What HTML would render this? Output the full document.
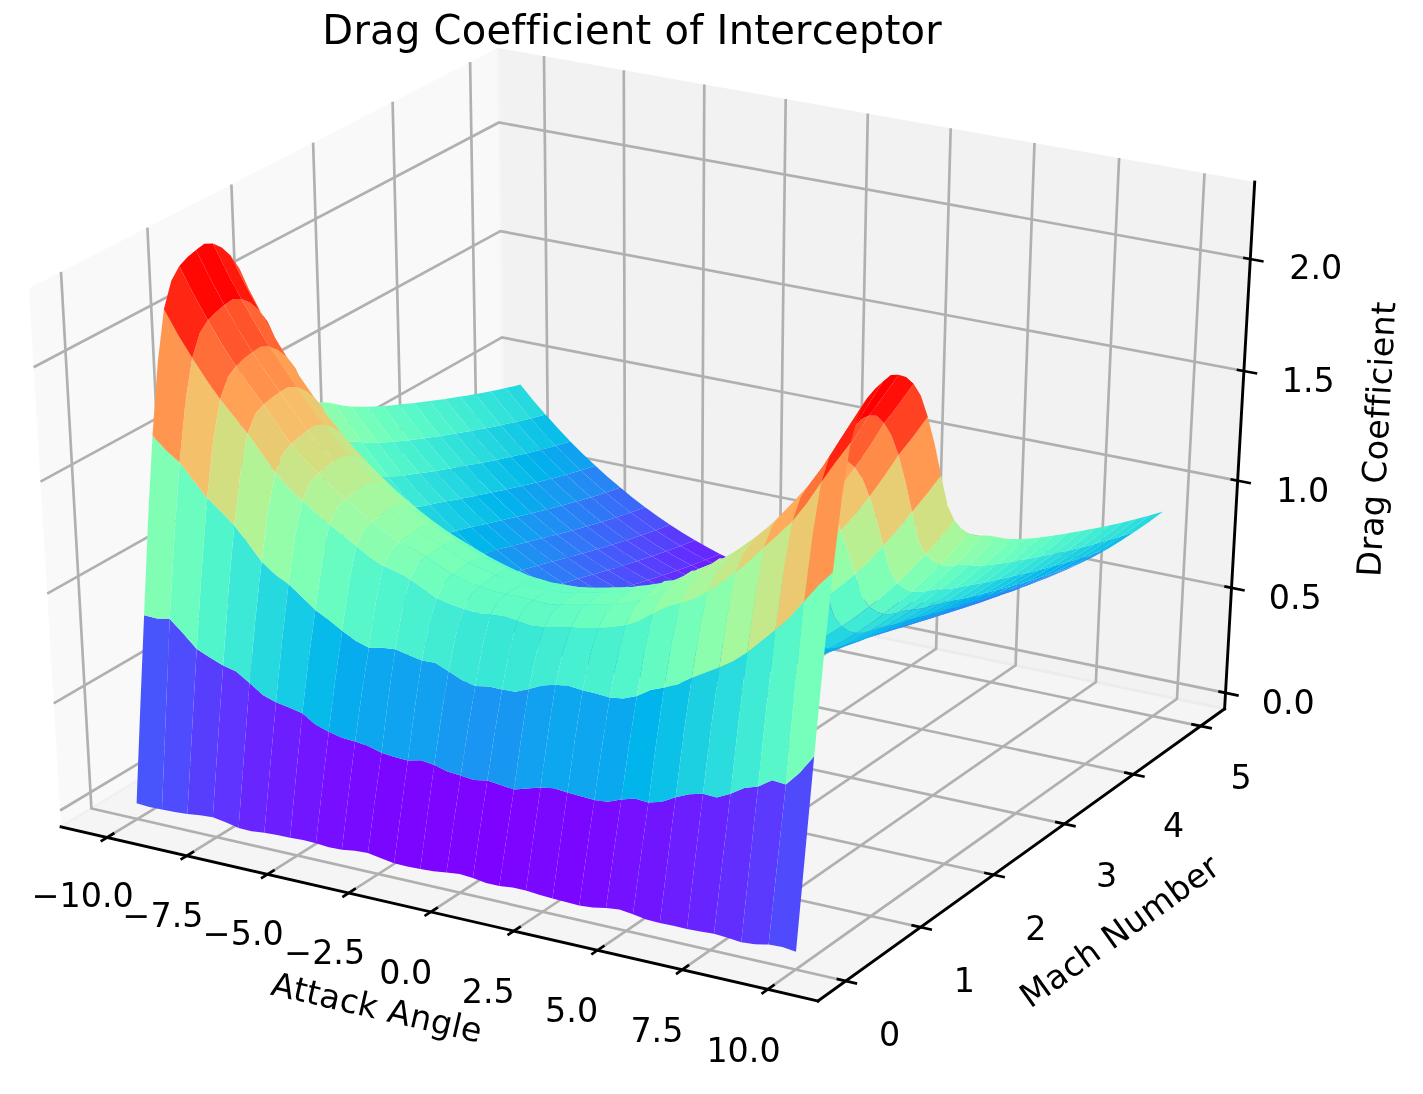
<!DOCTYPE html>
<html lang="en"><head><meta charset="utf-8"><title>Drag Coefficient of Interceptor</title>
<style>html,body{margin:0;padding:0;background:#fff}body{width:1423px;height:1094px;overflow:hidden}</style>
</head><body>
<svg width="1423" height="1094" viewBox="0 0 1423 1094" style="display:block">
<rect width="1423" height="1094" fill="#fff"/>
<polygon points="61.1,826.8 505.2,559.2 497.8,47.9 28.9,288.3" fill="#f9f9f9" />
<polygon points="505.2,559.2 1224.6,708.8 1254.7,182.1 497.8,47.9" fill="#f2f2f2" />
<polygon points="61.1,826.8 818.0,1001.0 1224.6,708.8 505.2,559.2" fill="#f5f5f5" />
<polyline points="505.2,559.2 1224.6,708.8" fill="none" stroke="#ececec" stroke-width="3"/>
<polyline points="61.1,826.8 505.2,559.2" fill="none" stroke="#f1f1f1" stroke-width="3"/>
<polyline points="505.2,559.2 497.8,47.9" fill="none" stroke="#f6f6f6" stroke-width="2.5"/>
<g fill="none" stroke="#b0b0b0" stroke-width="2.67" stroke-linejoin="miter" stroke-linecap="butt">
<polyline points="107.2,837.4 549.2,568.3 544.0,56.1"/>
<polyline points="186.9,855.7 625.1,584.1 623.8,70.2"/>
<polyline points="267.5,874.3 701.8,600.1 704.3,84.5"/>
<polyline points="348.8,893.0 779.2,616.2 785.7,98.9"/>
<polyline points="430.9,911.9 857.3,632.4 867.8,113.5"/>
<polyline points="513.8,931.0 936.1,648.8 950.7,128.2"/>
<polyline points="597.6,950.3 1015.6,665.3 1034.5,143.0"/>
<polyline points="682.2,969.7 1095.9,682.0 1119.1,158.0"/>
<polyline points="767.7,989.4 1177.0,698.9 1204.5,173.2"/>
<polyline points="845.8,981.0 91.4,808.5 61.0,271.9"/>
<polyline points="920.7,927.2 173.0,759.3 147.4,227.6"/>
<polyline points="993.5,874.8 252.4,711.5 231.4,184.5"/>
<polyline points="1064.4,823.9 329.8,664.8 313.1,142.6"/>
<polyline points="1133.4,774.3 405.3,619.4 392.6,101.8"/>
<polyline points="1200.5,726.1 478.8,575.1 470.1,62.1"/>
<polyline points="60.1,810.5 505.0,543.7 1225.5,692.9"/>
<polyline points="53.7,703.3 503.5,441.6 1231.5,587.8"/>
<polyline points="47.2,593.7 502.0,337.4 1237.6,480.6"/>
<polyline points="40.5,481.7 500.4,231.1 1243.9,371.0"/>
<polyline points="33.6,367.2 498.9,122.5 1250.3,259.1"/>
</g>
<g stroke="none">
<polygon points="605.7,492.6 618.2,502.8 630.7,512.5 637.9,509.9 645.1,507.2 632.7,497.7 620.3,487.6 613.0,490.1" fill="#3a69f9"/>
<polygon points="580.8,470.4 593.3,481.8 605.7,492.6 613.0,490.1 620.3,487.6 607.8,477.0 595.4,465.7 588.1,468.1" fill="#2785f6"/>
<polygon points="630.7,512.5 643.2,521.6 655.7,530.2 662.9,527.5 670.0,524.7 657.6,516.2 645.1,507.2 637.9,509.9" fill="#4b51fc"/>
<polygon points="555.8,445.7 568.3,458.4 580.8,470.4 588.1,468.1 595.4,465.7 582.9,453.9 570.4,441.4 563.1,443.6" fill="#10a1f0"/>
<polygon points="655.7,530.2 668.2,538.3 680.7,545.9 687.8,543.1 695.0,540.3 682.5,532.7 670.0,524.7 662.9,527.5" fill="#5a3bfd"/>
<polygon points="530.7,418.4 543.2,432.4 555.8,445.7 563.1,443.6 570.4,441.4 557.9,428.3 545.5,414.4 538.1,416.4" fill="#09bee9"/>
<polygon points="680.7,545.9 693.2,553.1 705.7,559.7 712.8,556.9 719.9,553.9 707.4,547.3 695.0,540.3 687.8,543.1" fill="#6529fe"/>
<polygon points="505.6,388.1 518.1,403.6 530.7,418.4 538.1,416.4 545.5,414.4 532.9,399.9 520.4,384.6 513.0,386.4" fill="#26d9de"/>
<polygon points="705.7,559.7 718.2,565.9 730.7,571.7 737.8,568.8 744.9,565.8 732.4,560.0 719.9,553.9 712.8,556.9" fill="#6f1aff"/>
<polygon points="730.7,571.7 743.3,577.0 755.9,582.0 762.9,579.0 770.0,575.9 757.4,571.0 744.9,565.8 737.8,568.8" fill="#760fff"/>
<polygon points="591.2,497.2 603.7,507.6 616.2,517.4 623.5,515.0 630.7,512.5 618.2,502.8 605.7,492.6 598.5,494.9" fill="#3670f8"/>
<polygon points="566.1,474.7 578.6,486.3 591.2,497.2 598.5,494.9 605.7,492.6 593.3,481.8 580.8,470.4 573.4,472.6" fill="#228bf4"/>
<polygon points="616.2,517.4 628.7,526.6 641.2,535.3 648.5,532.8 655.7,530.2 643.2,521.6 630.7,512.5 623.5,515.0" fill="#4757fb"/>
<polygon points="541.0,449.7 553.6,462.5 566.1,474.7 573.4,472.6 580.8,470.4 568.3,458.4 555.8,445.7 548.4,447.7" fill="#0ba8ef"/>
<polygon points="641.2,535.3 653.7,543.5 666.3,551.2 673.5,548.6 680.7,545.9 668.2,538.3 655.7,530.2 648.5,532.8" fill="#5542fd"/>
<polygon points="755.9,582.0 768.4,586.4 781.0,590.5 788.1,587.5 795.1,584.4 782.5,580.3 770.0,575.9 762.9,579.0" fill="#7b06ff"/>
<polygon points="515.8,421.9 528.4,436.2 541.0,449.7 548.4,447.7 555.8,445.7 543.2,432.4 530.7,418.4 523.3,420.2" fill="#0fc4e7"/>
<polygon points="666.3,551.2 678.8,558.5 691.4,565.2 698.5,562.5 705.7,559.7 693.2,553.1 680.7,545.9 673.5,548.6" fill="#612ffe"/>
<polygon points="691.4,565.2 703.9,571.5 716.5,577.3 723.6,574.6 730.7,571.7 718.2,565.9 705.7,559.7 698.5,562.5" fill="#6b20fe"/>
<polygon points="490.6,391.2 503.2,407.0 515.8,421.9 523.3,420.2 530.7,418.4 518.1,403.6 505.6,388.1 498.1,389.7" fill="#2cdedc"/>
<polygon points="781.0,590.5 793.7,594.2 806.3,597.4 813.3,594.3 820.3,591.2 807.7,588.0 795.1,584.4 788.1,587.5" fill="#7e02ff"/>
<polygon points="716.5,577.3 729.1,582.7 741.7,587.7 748.8,584.9 755.9,582.0 743.3,577.0 730.7,571.7 723.6,574.6" fill="#7215ff"/>
<polygon points="576.5,501.5 589.0,512.0 601.6,522.0 608.9,519.7 616.2,517.4 603.7,507.6 591.2,497.2 583.8,499.4" fill="#3077f7"/>
<polygon points="551.3,478.7 563.9,490.4 576.5,501.5 583.8,499.4 591.2,497.2 578.6,486.3 566.1,474.7 558.7,476.8" fill="#1c92f3"/>
<polygon points="601.6,522.0 614.1,531.3 626.7,540.2 634.0,537.8 641.2,535.3 628.7,526.6 616.2,517.4 608.9,519.7" fill="#425ffa"/>
<polygon points="626.7,540.2 639.2,548.5 651.8,556.3 659.1,553.8 666.3,551.2 653.7,543.5 641.2,535.3 634.0,537.8" fill="#5149fc"/>
<polygon points="526.1,453.4 538.7,466.4 551.3,478.7 558.7,476.8 566.1,474.7 553.6,462.5 541.0,449.7 533.6,451.6" fill="#05aeed"/>
<polygon points="806.3,597.4 819.0,600.2 831.7,602.6 838.7,599.6 845.7,596.4 833.0,594.0 820.3,591.2 813.3,594.3" fill="#8000ff"/>
<polygon points="741.7,587.7 754.3,592.2 766.9,596.3 774.0,593.5 781.0,590.5 768.4,586.4 755.9,582.0 748.8,584.9" fill="#780cff"/>
<polygon points="651.8,556.3 664.4,563.6 677.0,570.4 684.2,567.9 691.4,565.2 678.8,558.5 666.3,551.2 659.1,553.8" fill="#5d36fe"/>
<polygon points="500.9,425.2 513.5,439.6 526.1,453.4 533.6,451.6 541.0,449.7 528.4,436.2 515.8,421.9 508.4,423.6" fill="#15cae5"/>
<polygon points="677.0,570.4 689.5,576.8 702.1,582.7 709.3,580.1 716.5,577.3 703.9,571.5 691.4,565.2 684.2,567.9" fill="#6727fe"/>
<polygon points="475.6,394.1 488.2,410.0 500.9,425.2 508.4,423.6 515.8,421.9 503.2,407.0 490.6,391.2 483.1,392.7" fill="#33e3d9"/>
<polygon points="766.9,596.3 779.6,600.0 792.2,603.3 799.3,600.4 806.3,597.4 793.7,594.2 781.0,590.5 774.0,593.5" fill="#7b08ff"/>
<polygon points="831.7,602.6 844.4,604.6 857.2,606.2 864.1,603.2 871.1,600.0 858.4,598.4 845.7,596.4 838.7,599.6" fill="#7e02ff"/>
<polygon points="702.1,582.7 714.8,588.1 727.4,593.2 734.5,590.5 741.7,587.7 729.1,582.7 716.5,577.3 709.3,580.1" fill="#6e1bff"/>
<polygon points="561.7,505.6 574.3,516.2 586.9,526.3 594.2,524.2 601.6,522.0 589.0,512.0 576.5,501.5 569.1,503.6" fill="#2b7ff6"/>
<polygon points="586.9,526.3 599.5,535.8 612.1,544.7 619.4,542.5 626.7,540.2 614.1,531.3 601.6,522.0 594.2,524.2" fill="#3c66fa"/>
<polygon points="536.5,482.5 549.1,494.3 561.7,505.6 569.1,503.6 576.5,501.5 563.9,490.4 551.3,478.7 543.9,480.6" fill="#169af2"/>
<polygon points="792.2,603.3 804.9,606.1 817.7,608.5 824.7,605.6 831.7,602.6 819.0,600.2 806.3,597.4 799.3,600.4" fill="#7c06ff"/>
<polygon points="612.1,544.7 624.7,553.1 637.3,561.0 644.5,558.7 651.8,556.3 639.2,548.5 626.7,540.2 619.4,542.5" fill="#4b50fc"/>
<polygon points="511.2,456.7 523.8,469.9 536.5,482.5 543.9,480.6 551.3,478.7 538.7,466.4 526.1,453.4 518.7,455.1" fill="#01b5eb"/>
<polygon points="727.4,593.2 740.0,597.7 752.7,601.9 759.8,599.1 766.9,596.3 754.3,592.2 741.7,587.7 734.5,590.5" fill="#7313ff"/>
<polygon points="857.2,606.2 870.0,607.4 882.8,608.1 889.7,605.1 896.7,601.9 883.9,601.2 871.1,600.0 864.1,603.2" fill="#7b06ff"/>
<polygon points="637.3,561.0 649.9,568.4 662.5,575.3 669.7,572.9 677.0,570.4 664.4,563.6 651.8,556.3 644.5,558.7" fill="#583efd"/>
<polygon points="485.9,428.2 498.5,442.8 511.2,456.7 518.7,455.1 526.1,453.4 513.5,439.6 500.9,425.2 493.4,426.7" fill="#1cd0e2"/>
<polygon points="662.5,575.3 675.1,581.8 687.7,587.7 694.9,585.3 702.1,582.7 689.5,576.8 677.0,570.4 669.7,572.9" fill="#622ffe"/>
<polygon points="752.7,601.9 765.4,605.6 778.1,608.9 785.2,606.1 792.2,603.3 779.6,600.0 766.9,596.3 759.8,599.1" fill="#770eff"/>
<polygon points="817.7,608.5 830.4,610.5 843.2,612.1 850.2,609.2 857.2,606.2 844.4,604.6 831.7,602.6 824.7,605.6" fill="#7b08ff"/>
<polygon points="460.4,396.6 473.2,412.8 485.9,428.2 493.4,426.7 500.9,425.2 488.2,410.0 475.6,394.1 468.0,395.4" fill="#3ae8d7"/>
<polygon points="687.7,587.7 700.4,593.2 713.0,598.3 720.2,595.8 727.4,593.2 714.8,588.1 702.1,582.7 694.9,585.3" fill="#6923fe"/>
<polygon points="882.8,608.1 895.6,608.4 908.5,608.3 915.5,605.3 922.3,602.2 909.5,602.3 896.7,601.9 889.7,605.1" fill="#760fff"/>
<polygon points="546.8,509.5 559.5,520.2 572.1,530.4 579.5,528.4 586.9,526.3 574.3,516.2 561.7,505.6 554.3,507.5" fill="#2587f5"/>
<polygon points="572.1,530.4 584.7,540.0 597.4,549.1 604.7,546.9 612.1,544.7 599.5,535.8 586.9,526.3 579.5,528.4" fill="#376ef9"/>
<polygon points="521.5,486.0 534.2,498.1 546.8,509.5 554.3,507.5 561.7,505.6 549.1,494.3 536.5,482.5 529.0,484.3" fill="#10a1f0"/>
<polygon points="778.1,608.9 790.8,611.7 803.6,614.1 810.6,611.4 817.7,608.5 804.9,606.1 792.2,603.3 785.2,606.1" fill="#780cff"/>
<polygon points="597.4,549.1 610.0,557.6 622.6,565.6 629.9,563.3 637.3,561.0 624.7,553.1 612.1,544.7 604.7,546.9" fill="#4659fb"/>
<polygon points="713.0,598.3 725.7,602.9 738.4,607.1 745.5,604.5 752.7,601.9 740.0,597.7 727.4,593.2 720.2,595.8" fill="#6f1aff"/>
<polygon points="496.2,459.9 508.8,473.3 521.5,486.0 529.0,484.3 536.5,482.5 523.8,469.9 511.2,456.7 503.7,458.3" fill="#07bce9"/>
<polygon points="843.2,612.1 856.0,613.3 868.9,614.0 875.8,611.1 882.8,608.1 870.0,607.4 857.2,606.2 850.2,609.2" fill="#780cff"/>
<polygon points="622.6,565.6 635.2,573.1 647.9,580.1 655.2,577.7 662.5,575.3 649.9,568.4 637.3,561.0 629.9,563.3" fill="#5246fd"/>
<polygon points="470.7,431.0 483.4,445.8 496.2,459.9 503.7,458.3 511.2,456.7 498.5,442.8 485.9,428.2 478.3,429.6" fill="#23d6e0"/>
<polygon points="647.9,580.1 660.5,586.6 673.2,592.6 680.5,590.2 687.7,587.7 675.1,581.8 662.5,575.3 655.2,577.7" fill="#5d36fe"/>
<polygon points="908.5,608.3 921.5,607.8 934.4,606.7 941.3,603.8 948.2,600.7 935.3,601.7 922.3,602.2 915.5,605.3" fill="#6f1aff"/>
<polygon points="738.4,607.1 751.1,610.8 763.8,614.1 771.0,611.5 778.1,608.9 765.4,605.6 752.7,601.9 745.5,604.5" fill="#7215ff"/>
<polygon points="803.6,614.1 816.3,616.1 829.1,617.7 836.2,614.9 843.2,612.1 830.4,610.5 817.7,608.5 810.6,611.4" fill="#770eff"/>
<polygon points="445.2,398.9 458.0,415.3 470.7,431.0 478.3,429.6 485.9,428.2 473.2,412.8 460.4,396.6 452.8,397.8" fill="#41ecd3"/>
<polygon points="673.2,592.6 685.9,598.2 698.6,603.3 705.8,600.8 713.0,598.3 700.4,593.2 687.7,587.7 680.5,590.2" fill="#642bfe"/>
<polygon points="868.9,614.0 881.7,614.3 894.7,614.1 901.6,611.3 908.5,608.3 895.6,608.4 882.8,608.1 875.8,611.1" fill="#7215ff"/>
<polygon points="531.9,513.2 544.5,524.1 557.2,534.4 564.7,532.5 572.1,530.4 559.5,520.2 546.8,509.5 539.4,511.3" fill="#1f8ff4"/>
<polygon points="557.2,534.4 569.9,544.2 582.5,553.4 590.0,551.3 597.4,549.1 584.7,540.0 572.1,530.4 564.7,532.5" fill="#3177f8"/>
<polygon points="763.8,614.1 776.6,617.0 789.4,619.4 796.5,616.8 803.6,614.1 790.8,611.7 778.1,608.9 771.0,611.5" fill="#7314ff"/>
<polygon points="506.5,489.4 519.2,501.6 531.9,513.2 539.4,511.3 546.8,509.5 534.2,498.1 521.5,486.0 514.0,487.7" fill="#0aa9ee"/>
<polygon points="582.5,553.4 595.2,562.0 607.9,570.1 615.3,567.9 622.6,565.6 610.0,557.6 597.4,549.1 590.0,551.3" fill="#4061fa"/>
<polygon points="698.6,603.3 711.3,608.0 724.0,612.2 731.2,609.6 738.4,607.1 725.7,602.9 713.0,598.3 705.8,600.8" fill="#6a22fe"/>
<polygon points="829.1,617.7 842.0,618.9 854.9,619.6 861.9,616.8 868.9,614.0 856.0,613.3 843.2,612.1 836.2,614.9" fill="#7313ff"/>
<polygon points="481.0,462.9 493.7,476.5 506.5,489.4 514.0,487.7 521.5,486.0 508.8,473.3 496.2,459.9 488.6,461.4" fill="#0ec3e7"/>
<polygon points="607.9,570.1 620.6,577.7 633.2,584.7 640.6,582.5 647.9,580.1 635.2,573.1 622.6,565.6 615.3,567.9" fill="#4d4efc"/>
<polygon points="934.4,606.7 947.4,605.2 960.5,603.3 967.4,600.4 974.2,597.4 961.2,599.3 948.2,600.7 941.3,603.8" fill="#6529fe"/>
<polygon points="455.5,433.5 468.3,448.6 481.0,462.9 488.6,461.4 496.2,459.9 483.4,445.8 470.7,431.0 463.1,432.3" fill="#2adcdd"/>
<polygon points="633.2,584.7 645.9,591.3 658.6,597.4 665.9,595.1 673.2,592.6 660.5,586.6 647.9,580.1 640.6,582.5" fill="#573ffd"/>
<polygon points="894.7,614.1 907.6,613.5 920.6,612.4 927.5,609.6 934.4,606.7 921.5,607.8 908.5,608.3 901.6,611.3" fill="#6b20fe"/>
<polygon points="724.0,612.2 736.7,616.0 749.5,619.3 756.7,616.7 763.8,614.1 751.1,610.8 738.4,607.1 731.2,609.6" fill="#6d1dff"/>
<polygon points="789.4,619.4 802.2,621.4 815.0,623.0 822.1,620.4 829.1,617.7 816.3,616.1 803.6,614.1 796.5,616.8" fill="#7215ff"/>
<polygon points="429.8,401.0 442.7,417.7 455.5,433.5 463.1,432.3 470.7,431.0 458.0,415.3 445.2,398.9 437.5,400.0" fill="#49f1d0"/>
<polygon points="658.6,597.4 671.3,603.1 684.0,608.2 691.3,605.8 698.6,603.3 685.9,598.2 673.2,592.6 665.9,595.1" fill="#5f33fe"/>
<polygon points="854.9,619.6 867.8,619.8 880.7,619.6 887.7,616.9 894.7,614.1 881.7,614.3 868.9,614.0 861.9,616.8" fill="#6e1bff"/>
<polygon points="749.5,619.3 762.3,622.2 775.1,624.6 782.2,622.0 789.4,619.4 776.6,617.0 763.8,614.1 756.7,616.7" fill="#6e1bff"/>
<polygon points="516.8,516.7 529.5,527.8 542.2,538.2 549.7,536.3 557.2,534.4 544.5,524.1 531.9,513.2 524.3,514.9" fill="#1997f2"/>
<polygon points="542.2,538.2 554.9,548.1 567.6,557.4 575.1,555.4 582.5,553.4 569.9,544.2 557.2,534.4 549.7,536.3" fill="#2b7ff6"/>
<polygon points="491.3,492.6 504.1,504.9 516.8,516.7 524.3,514.9 531.9,513.2 519.2,501.6 506.5,489.4 498.9,491.0" fill="#03b1ed"/>
<polygon points="960.5,603.3 973.6,600.8 986.8,597.9 993.6,595.0 1000.4,592.1 987.3,595.0 974.2,597.4 967.4,600.4" fill="#5a3bfd"/>
<polygon points="567.6,557.4 580.4,566.2 593.1,574.4 600.5,572.2 607.9,570.1 595.2,562.0 582.5,553.4 575.1,555.4" fill="#3a69f9"/>
<polygon points="815.0,623.0 827.9,624.1 840.8,624.8 847.8,622.2 854.9,619.6 842.0,618.9 829.1,617.7 822.1,620.4" fill="#6f1aff"/>
<polygon points="684.0,608.2 696.8,612.9 709.5,617.2 716.8,614.7 724.0,612.2 711.3,608.0 698.6,603.3 691.3,605.8" fill="#652afe"/>
<polygon points="465.8,465.7 478.5,479.5 491.3,492.6 498.9,491.0 506.5,489.4 493.7,476.5 481.0,462.9 473.4,464.3" fill="#15cae5"/>
<polygon points="920.6,612.4 933.6,610.9 946.7,608.9 953.6,606.1 960.5,603.3 947.4,605.2 934.4,606.7 927.5,609.6" fill="#612ffe"/>
<polygon points="593.1,574.4 605.8,582.0 618.5,589.2 625.9,587.0 633.2,584.7 620.6,577.7 607.9,570.1 600.5,572.2" fill="#4756fb"/>
<polygon points="440.1,435.9 453.0,451.2 465.8,465.7 473.4,464.3 481.0,462.9 468.3,448.6 455.5,433.5 447.8,434.7" fill="#31e2da"/>
<polygon points="880.7,619.6 893.7,619.0 906.7,617.9 913.7,615.2 920.6,612.4 907.6,613.5 894.7,614.1 887.7,616.9" fill="#6727fe"/>
<polygon points="618.5,589.2 631.2,595.8 643.9,602.0 651.3,599.7 658.6,597.4 645.9,591.3 633.2,584.7 625.9,587.0" fill="#5247fc"/>
<polygon points="775.1,624.6 787.9,626.6 800.8,628.2 807.9,625.6 815.0,623.0 802.2,621.4 789.4,619.4 782.2,622.0" fill="#6d1dff"/>
<polygon points="709.5,617.2 722.3,621.0 735.1,624.3 742.3,621.8 749.5,619.3 736.7,616.0 724.0,612.2 716.8,614.7" fill="#6825fe"/>
<polygon points="840.8,624.8 853.7,625.1 866.7,624.8 873.7,622.3 880.7,619.6 867.8,619.8 854.9,619.6 847.8,622.2" fill="#6923fe"/>
<polygon points="643.9,602.0 656.7,607.7 669.4,612.9 676.7,610.6 684.0,608.2 671.3,603.1 658.6,597.4 651.3,599.7" fill="#5a3bfd"/>
<polygon points="414.4,402.9 427.3,419.8 440.1,435.9 447.8,434.7 455.5,433.5 442.7,417.7 429.8,401.0 422.1,401.9" fill="#50f4cc"/>
<polygon points="986.8,597.9 1000.0,594.4 1013.2,590.3 1020.0,587.6 1026.9,584.8 1013.6,588.7 1000.4,592.1 993.6,595.0" fill="#4b51fc"/>
<polygon points="735.1,624.3 747.9,627.2 760.7,629.7 767.9,627.2 775.1,624.6 762.3,622.2 749.5,619.3 742.3,621.8" fill="#6923fe"/>
<polygon points="501.6,520.2 514.4,531.4 527.2,542.1 534.7,540.1 542.2,538.2 529.5,527.8 516.8,516.7 509.2,518.4" fill="#129ff1"/>
<polygon points="527.2,542.1 539.9,552.1 552.7,561.5 560.2,559.5 567.6,557.4 554.9,548.1 542.2,538.2 534.7,540.1" fill="#2587f5"/>
<polygon points="946.7,608.9 959.8,606.3 973.0,603.3 979.9,600.6 986.8,597.9 973.6,600.8 960.5,603.3 953.6,606.1" fill="#5542fd"/>
<polygon points="800.8,628.2 813.7,629.3 826.6,630.0 833.7,627.4 840.8,624.8 827.9,624.1 815.0,623.0 807.9,625.6" fill="#6a22fe"/>
<polygon points="476.1,495.7 488.9,508.3 501.6,520.2 509.2,518.4 516.8,516.7 504.1,504.9 491.3,492.6 483.7,494.1" fill="#03b8eb"/>
<polygon points="669.4,612.9 682.2,617.7 695.0,622.0 702.3,619.6 709.5,617.2 696.8,612.9 684.0,608.2 676.7,610.6" fill="#5f32fe"/>
<polygon points="552.7,561.5 565.4,570.4 578.1,578.7 585.6,576.5 593.1,574.4 580.4,566.2 567.6,557.4 560.2,559.5" fill="#3472f8"/>
<polygon points="906.7,617.9 919.8,616.3 932.9,614.2 939.8,611.6 946.7,608.9 933.6,610.9 920.6,612.4 913.7,615.2" fill="#5d36fe"/>
<polygon points="450.4,468.5 463.3,482.5 476.1,495.7 483.7,494.1 491.3,492.6 478.5,479.5 465.8,465.7 458.1,467.1" fill="#1cd1e2"/>
<polygon points="578.1,578.7 590.9,586.5 603.6,593.7 611.1,591.4 618.5,589.2 605.8,582.0 593.1,574.4 585.6,576.5" fill="#425ffa"/>
<polygon points="866.7,624.8 879.7,624.2 892.7,623.0 899.7,620.5 906.7,617.9 893.7,619.0 880.7,619.6 873.7,622.3" fill="#622ffe"/>
<polygon points="603.6,593.7 616.4,600.5 629.1,606.7 636.5,604.3 643.9,602.0 631.2,595.8 618.5,589.2 611.1,591.4" fill="#4c4ffc"/>
<polygon points="760.7,629.7 773.6,631.7 786.5,633.2 793.6,630.8 800.8,628.2 787.9,626.6 775.1,624.6 767.9,627.2" fill="#6825fe"/>
<polygon points="424.7,438.2 437.6,453.7 450.4,468.5 458.1,467.1 465.8,465.7 453.0,451.2 440.1,435.9 432.4,437.1" fill="#39e7d7"/>
<polygon points="695.0,622.0 707.8,625.8 720.6,629.2 727.8,626.7 735.1,624.3 722.3,621.0 709.5,617.2 702.3,619.6" fill="#632dfe"/>
<polygon points="826.6,630.0 839.6,630.2 852.5,629.9 859.6,627.4 866.7,624.8 853.7,625.1 840.8,624.8 833.7,627.4" fill="#642bfe"/>
<polygon points="629.1,606.7 641.9,612.5 654.7,617.7 662.1,615.3 669.4,612.9 656.7,607.7 643.9,602.0 636.5,604.3" fill="#5443fd"/>
<polygon points="398.8,404.6 411.8,421.8 424.7,438.2 432.4,437.1 440.1,435.9 427.3,419.8 414.4,402.9 406.6,403.8" fill="#58f8c9"/>
<polygon points="1013.2,590.3 1026.5,585.7 1039.9,580.6 1046.7,577.9 1053.5,575.2 1040.1,580.3 1026.9,584.8 1020.0,587.6" fill="#3a69f9"/>
<polygon points="973.0,603.3 986.3,599.7 999.5,595.6 1006.4,593.0 1013.2,590.3 1000.0,594.4 986.8,597.9 979.9,600.6" fill="#4757fb"/>
<polygon points="720.6,629.2 733.4,632.1 746.3,634.5 753.5,632.1 760.7,629.7 747.9,627.2 735.1,624.3 727.8,626.7" fill="#642bfe"/>
<polygon points="932.9,614.2 946.0,611.6 959.2,608.4 966.1,605.9 973.0,603.3 959.8,606.3 946.7,608.9 939.8,611.6" fill="#5149fc"/>
<polygon points="512.0,545.9 524.8,556.1 537.6,565.7 545.1,563.6 552.7,561.5 539.9,552.1 527.2,542.1 519.6,544.0" fill="#1f8ff4"/>
<polygon points="486.4,523.7 499.2,535.1 512.0,545.9 519.6,544.0 527.2,542.1 514.4,531.4 501.6,520.2 494.0,522.0" fill="#0ca7ef"/>
<polygon points="786.5,633.2 799.4,634.3 812.3,635.0 819.5,632.5 826.6,630.0 813.7,629.3 800.8,628.2 793.6,630.8" fill="#652afe"/>
<polygon points="654.7,617.7 667.5,622.5 680.3,626.9 687.6,624.4 695.0,622.0 682.2,617.7 669.4,612.9 662.1,615.3" fill="#5a3bfd"/>
<polygon points="537.6,565.7 550.4,574.7 563.1,583.2 570.6,580.9 578.1,578.7 565.4,570.4 552.7,561.5 545.1,563.6" fill="#2f7af7"/>
<polygon points="460.7,498.8 473.6,511.6 486.4,523.7 494.0,522.0 501.6,520.2 488.9,508.3 476.1,495.7 468.4,497.3" fill="#0abfe8"/>
<polygon points="892.7,623.0 905.8,621.3 918.9,619.2 925.9,616.7 932.9,614.2 919.8,616.3 906.7,617.9 899.7,620.5" fill="#583efd"/>
<polygon points="563.1,583.2 575.9,591.0 588.7,598.4 596.2,596.1 603.6,593.7 590.9,586.5 578.1,578.7 570.6,580.9" fill="#3c67f9"/>
<polygon points="435.0,471.0 447.9,485.3 460.7,498.8 468.4,497.3 476.1,495.7 463.3,482.5 450.4,468.5 442.7,469.8" fill="#24d7e0"/>
<polygon points="852.5,629.9 865.6,629.2 878.6,628.0 885.7,625.5 892.7,623.0 879.7,624.2 866.7,624.8 859.6,627.4" fill="#5d36fe"/>
<polygon points="588.7,598.4 601.5,605.2 614.3,611.6 621.7,609.1 629.1,606.7 616.4,600.5 603.6,593.7 596.2,596.1" fill="#4758fb"/>
<polygon points="746.3,634.5 759.2,636.5 772.1,638.1 779.3,635.7 786.5,633.2 773.6,631.7 760.7,629.7 753.5,632.1" fill="#632dfe"/>
<polygon points="680.3,626.9 693.1,630.7 706.0,634.1 713.3,631.6 720.6,629.2 707.8,625.8 695.0,622.0 687.6,624.4" fill="#5d35fe"/>
<polygon points="409.1,440.2 422.1,456.0 435.0,471.0 442.7,469.8 450.4,468.5 437.6,453.7 424.7,438.2 416.9,439.2" fill="#40ecd4"/>
<polygon points="812.3,635.0 825.3,635.2 838.3,634.9 845.5,632.4 852.5,629.9 839.6,630.2 826.6,630.0 819.5,632.5" fill="#5f33fe"/>
<polygon points="614.3,611.6 627.1,617.4 639.9,622.7 647.3,620.2 654.7,617.7 641.9,612.5 629.1,606.7 621.7,609.1" fill="#4f4bfc"/>
<polygon points="999.5,595.6 1012.9,590.9 1026.3,585.6 1033.1,583.1 1039.9,580.6 1026.5,585.7 1013.2,590.3 1006.4,593.0" fill="#3670f8"/>
<polygon points="1039.9,580.6 1053.4,574.8 1066.9,568.4 1073.7,565.9 1080.4,563.3 1066.9,569.6 1053.5,575.2 1046.7,577.9" fill="#2785f6"/>
<polygon points="959.2,608.4 972.5,604.8 985.8,600.5 992.7,598.1 999.5,595.6 986.3,599.7 973.0,603.3 966.1,605.9" fill="#425ffa"/>
<polygon points="383.1,406.0 396.1,423.5 409.1,440.2 416.9,439.2 424.7,438.2 411.8,421.8 398.8,404.6 391.0,405.4" fill="#61fac5"/>
<polygon points="706.0,634.1 718.9,637.1 731.7,639.5 739.0,637.0 746.3,634.5 733.4,632.1 720.6,629.2 713.3,631.6" fill="#5e34fe"/>
<polygon points="918.9,619.2 932.1,616.5 945.3,613.3 952.3,610.9 959.2,608.4 946.0,611.6 932.9,614.2 925.9,616.7" fill="#4b50fc"/>
<polygon points="496.7,549.7 509.6,560.1 522.4,569.9 530.0,567.8 537.6,565.7 524.8,556.1 512.0,545.9 504.4,547.8" fill="#1897f2"/>
<polygon points="471.0,527.0 483.9,538.7 496.7,549.7 504.4,547.8 512.0,545.9 499.2,535.1 486.4,523.7 478.7,525.4" fill="#05afed"/>
<polygon points="772.1,638.1 785.0,639.2 798.0,639.8 805.2,637.4 812.3,635.0 799.4,634.3 786.5,633.2 779.3,635.7" fill="#5f32fe"/>
<polygon points="639.9,622.7 652.7,627.6 665.6,632.0 672.9,629.4 680.3,626.9 667.5,622.5 654.7,617.7 647.3,620.2" fill="#5543fd"/>
<polygon points="522.4,569.9 535.2,579.1 548.0,587.7 555.6,585.4 563.1,583.2 550.4,574.7 537.6,565.7 530.0,567.8" fill="#2982f6"/>
<polygon points="445.3,501.6 458.2,514.7 471.0,527.0 478.7,525.4 486.4,523.7 473.6,511.6 460.7,498.8 453.0,500.2" fill="#11c7e6"/>
<polygon points="878.6,628.0 891.8,626.2 904.9,624.0 911.9,621.6 918.9,619.2 905.8,621.3 892.7,623.0 885.7,625.5" fill="#5246fd"/>
<polygon points="548.0,587.7 560.8,595.7 573.7,603.2 581.2,600.8 588.7,598.4 575.9,591.0 563.1,583.2 555.6,585.4" fill="#366ff9"/>
<polygon points="419.4,473.2 432.4,487.8 445.3,501.6 453.0,500.2 460.7,498.8 447.9,485.3 435.0,471.0 427.2,472.2" fill="#2bdddd"/>
<polygon points="838.3,634.9 851.4,634.1 864.5,632.8 871.6,630.4 878.6,628.0 865.6,629.2 852.5,629.9 845.5,632.4" fill="#573ffd"/>
<polygon points="573.7,603.2 586.5,610.1 599.3,616.6 606.8,614.1 614.3,611.6 601.5,605.2 588.7,598.4 581.2,600.8" fill="#4160fa"/>
<polygon points="731.7,639.5 744.7,641.5 757.6,643.1 764.9,640.6 772.1,638.1 759.2,636.5 746.3,634.5 739.0,637.0" fill="#5d35fe"/>
<polygon points="665.6,632.0 678.4,635.9 691.3,639.3 698.7,636.7 706.0,634.1 693.1,630.7 680.3,626.9 672.9,629.4" fill="#583dfd"/>
<polygon points="393.4,441.7 406.4,457.9 419.4,473.2 427.2,472.2 435.0,471.0 422.1,456.0 409.1,440.2 401.3,441.0" fill="#48f0d0"/>
<polygon points="798.0,639.8 811.0,640.0 824.1,639.6 831.2,637.3 838.3,634.9 825.3,635.2 812.3,635.0 805.2,637.4" fill="#5a3bfd"/>
<polygon points="599.3,616.6 612.2,622.5 625.0,627.9 632.5,625.3 639.9,622.7 627.1,617.4 614.3,611.6 606.8,614.1" fill="#4953fb"/>
<polygon points="985.8,600.5 999.1,595.7 1012.6,590.3 1019.4,588.0 1026.3,585.6 1012.9,590.9 999.5,595.6 992.7,598.1" fill="#3077f7"/>
<polygon points="1026.3,585.6 1039.8,579.7 1053.3,573.2 1060.1,570.8 1066.9,568.4 1053.4,574.8 1039.9,580.6 1033.1,583.1" fill="#228bf4"/>
<polygon points="945.3,613.3 958.6,609.5 971.9,605.2 978.9,602.9 985.8,600.5 972.5,604.8 959.2,608.4 952.3,610.9" fill="#3c66fa"/>
<polygon points="691.3,639.3 704.2,642.2 717.1,644.7 724.4,642.1 731.7,639.5 718.9,637.1 706.0,634.1 698.7,636.7" fill="#593cfd"/>
<polygon points="1066.9,568.4 1080.5,561.4 1094.1,553.6 1100.9,551.3 1107.6,548.9 1094.0,556.4 1080.4,563.3 1073.7,565.9" fill="#10a1f0"/>
<polygon points="367.3,406.7 380.4,424.7 393.4,441.7 401.3,441.0 409.1,440.2 396.1,423.5 383.1,406.0 375.2,406.5" fill="#69fdc0"/>
<polygon points="904.9,624.0 918.1,621.3 931.4,618.0 938.4,615.6 945.3,613.3 932.1,616.5 918.9,619.2 911.9,621.6" fill="#4659fb"/>
<polygon points="481.4,554.4 494.3,565.1 507.1,575.2 514.8,572.3 522.4,569.9 509.6,560.1 496.7,549.7 489.1,551.9" fill="#139ef1"/>
<polygon points="757.6,643.1 770.6,644.2 783.6,644.8 790.8,642.3 798.0,639.8 785.0,639.2 772.1,638.1 764.9,640.6" fill="#5a3bfd"/>
<polygon points="625.0,627.9 637.9,632.8 650.7,637.3 658.2,634.6 665.6,632.0 652.7,627.6 639.9,622.7 632.5,625.3" fill="#4f4afc"/>
<polygon points="455.6,531.0 468.5,543.1 481.4,554.4 489.1,551.9 496.7,549.7 483.9,538.7 471.0,527.0 463.3,528.9" fill="#01b6eb"/>
<polygon points="507.1,575.2 520.0,584.7 532.8,593.5 540.4,590.3 548.0,587.7 535.2,579.1 522.4,569.9 514.8,572.3" fill="#2389f5"/>
<polygon points="864.5,632.8 877.6,631.0 890.8,628.7 897.9,626.4 904.9,624.0 891.8,626.2 878.6,628.0 871.6,630.4" fill="#4d4efc"/>
<polygon points="429.7,504.7 442.7,518.2 455.6,531.0 463.3,528.9 471.0,527.0 458.2,514.7 445.3,501.6 437.5,503.1" fill="#18cde4"/>
<polygon points="532.8,593.5 545.7,601.8 558.6,609.5 566.1,606.0 573.7,603.2 560.8,595.7 548.0,587.7 540.4,590.3" fill="#3176f8"/>
<polygon points="403.7,475.4 416.7,490.5 429.7,504.7 437.5,503.1 445.3,501.6 432.4,487.8 419.4,473.2 411.6,474.3" fill="#33e3da"/>
<polygon points="824.1,639.6 837.1,638.8 850.3,637.5 857.4,635.1 864.5,632.8 851.4,634.1 838.3,634.9 831.2,637.3" fill="#5247fc"/>
<polygon points="558.6,609.5 571.4,616.6 584.3,623.2 591.8,619.6 599.3,616.6 586.5,610.1 573.7,603.2 566.1,606.0" fill="#3d66fa"/>
<polygon points="717.1,644.7 730.1,646.7 743.0,648.3 750.3,645.6 757.6,643.1 744.7,641.5 731.7,639.5 724.4,642.1" fill="#583dfd"/>
<polygon points="650.7,637.3 663.6,641.2 676.5,644.7 683.9,641.9 691.3,639.3 678.4,635.9 665.6,632.0 658.2,634.6" fill="#5345fd"/>
<polygon points="377.6,442.8 390.7,459.5 403.7,475.4 411.6,474.3 419.4,473.2 406.4,457.9 393.4,441.7 385.6,442.3" fill="#51f5cc"/>
<polygon points="584.3,623.2 597.1,629.3 610.0,634.8 617.5,631.0 625.0,627.9 612.2,622.5 599.3,616.6 591.8,619.6" fill="#455afb"/>
<polygon points="783.6,644.8 796.6,644.9 809.7,644.5 816.9,642.0 824.1,639.6 811.0,640.0 798.0,639.8 790.8,642.3" fill="#5443fd"/>
<polygon points="971.9,605.2 985.3,600.3 998.8,594.8 1005.7,592.6 1012.6,590.3 999.1,595.7 985.8,600.5 978.9,602.9" fill="#2b7ff6"/>
<polygon points="1012.6,590.3 1026.1,584.3 1039.6,577.6 1046.5,575.4 1053.3,573.2 1039.8,579.7 1026.3,585.6 1019.4,588.0" fill="#1c92f3"/>
<polygon points="931.4,618.0 944.7,614.1 958.0,609.7 965.0,607.4 971.9,605.2 958.6,609.5 945.3,613.3 938.4,615.6" fill="#376ef9"/>
<polygon points="676.5,644.7 689.5,647.6 702.4,650.1 709.8,647.4 717.1,644.7 704.2,642.2 691.3,639.3 683.9,641.9" fill="#5443fd"/>
<polygon points="1053.3,573.2 1066.9,566.0 1080.6,558.1 1087.4,555.9 1094.1,553.6 1080.5,561.4 1066.9,568.4 1060.1,570.8" fill="#0ba8ef"/>
<polygon points="890.8,628.7 904.0,625.9 917.3,622.5 924.3,620.3 931.4,618.0 918.1,621.3 904.9,624.0 897.9,626.4" fill="#4061fa"/>
<polygon points="610.0,634.8 622.9,639.8 635.8,644.4 643.3,640.4 650.7,637.3 637.9,632.8 625.0,627.9 617.5,631.0" fill="#4b51fc"/>
<polygon points="465.9,558.7 478.9,569.8 491.8,580.3 499.5,578.1 507.1,575.2 494.3,565.1 481.4,554.4 473.7,556.9" fill="#0ea5ef"/>
<polygon points="743.0,648.3 756.0,649.3 769.1,649.9 776.3,647.3 783.6,644.8 770.6,644.2 757.6,643.1 750.3,645.6" fill="#5543fd"/>
<polygon points="491.8,580.3 504.7,590.1 517.6,599.3 525.2,596.8 532.8,593.5 520.0,584.7 507.1,575.2 499.5,578.1" fill="#1f8ff4"/>
<polygon points="440.0,534.3 453.0,546.8 465.9,558.7 473.7,556.9 481.4,554.4 468.5,543.1 455.6,531.0 447.8,533.0" fill="#07bce9"/>
<polygon points="351.4,406.6 364.5,425.1 377.6,442.8 385.6,442.3 393.4,441.7 380.4,424.7 367.3,406.7 359.4,406.8" fill="#73febb"/>
<polygon points="1094.1,553.6 1107.9,545.2 1121.7,536.1 1128.4,533.9 1135.1,531.6 1121.3,540.6 1107.6,548.9 1100.9,551.3" fill="#09bee9"/>
<polygon points="850.3,637.5 863.4,635.6 876.6,633.3 883.7,631.0 890.8,628.7 877.6,631.0 864.5,632.8 857.4,635.1" fill="#4756fb"/>
<polygon points="517.6,599.3 530.5,607.9 543.4,615.9 551.0,613.0 558.6,609.5 545.7,601.8 532.8,593.5 525.2,596.8" fill="#2e7bf7"/>
<polygon points="414.0,506.8 427.1,520.9 440.0,534.3 447.8,533.0 455.6,531.0 442.7,518.2 429.7,504.7 421.9,506.2" fill="#1fd3e1"/>
<polygon points="543.4,615.9 556.2,623.3 569.1,630.1 576.7,627.0 584.3,623.2 571.4,616.6 558.6,609.5 551.0,613.0" fill="#396bf9"/>
<polygon points="809.7,644.5 822.8,643.6 835.9,642.2 843.1,639.8 850.3,637.5 837.1,638.8 824.1,639.6 816.9,642.0" fill="#4c4ffc"/>
<polygon points="635.8,644.4 648.7,648.4 661.7,651.9 669.1,647.9 676.5,644.7 663.6,641.2 650.7,637.3 643.3,640.4" fill="#4f4bfc"/>
<polygon points="702.4,650.1 715.4,652.1 728.4,653.6 735.7,650.9 743.0,648.3 730.1,646.7 717.1,644.7 709.8,647.4" fill="#5345fd"/>
<polygon points="387.9,476.2 401.0,491.9 414.0,506.8 421.9,506.2 429.7,504.7 416.7,490.5 403.7,475.4 395.9,476.2" fill="#3be9d6"/>
<polygon points="569.1,630.1 582.0,636.3 595.0,642.0 602.5,638.8 610.0,634.8 597.1,629.3 584.3,623.2 576.7,627.0" fill="#425efb"/>
<polygon points="769.1,649.9 782.1,650.0 795.2,649.5 802.5,647.0 809.7,644.5 796.6,644.9 783.6,644.8 776.3,647.3" fill="#4f4bfc"/>
<polygon points="361.7,442.1 374.8,459.6 387.9,476.2 395.9,476.2 403.7,475.4 390.7,459.5 377.6,442.8 369.7,442.9" fill="#5af8c8"/>
<polygon points="958.0,609.7 971.4,604.7 984.9,599.0 991.9,596.9 998.8,594.8 985.3,600.3 971.9,605.2 965.0,607.4" fill="#2587f5"/>
<polygon points="998.8,594.8 1012.3,588.6 1025.9,581.8 1032.8,579.7 1039.6,577.6 1026.1,584.3 1012.6,590.3 1005.7,592.6" fill="#169af2"/>
<polygon points="917.3,622.5 930.6,618.6 944.0,614.0 951.0,611.9 958.0,609.7 944.7,614.1 931.4,618.0 924.3,620.3" fill="#3177f8"/>
<polygon points="661.7,651.9 674.6,654.8 687.6,657.3 695.0,653.4 702.4,650.1 689.5,647.6 676.5,644.7 669.1,647.9" fill="#5049fc"/>
<polygon points="595.0,642.0 607.9,647.2 620.8,651.8 628.3,648.4 635.8,644.4 622.9,639.8 610.0,634.8 602.5,638.8" fill="#4954fb"/>
<polygon points="1039.6,577.6 1053.3,570.3 1067.0,562.2 1073.8,560.2 1080.6,558.1 1066.9,566.0 1053.3,573.2 1046.5,575.4" fill="#05aeed"/>
<polygon points="876.6,633.3 889.9,630.4 903.2,626.9 910.3,624.7 917.3,622.5 904.0,625.9 890.8,628.7 883.7,631.0" fill="#3a69f9"/>
<polygon points="450.4,563.3 463.4,574.9 476.3,585.8 484.1,582.6 491.8,580.3 478.9,569.8 465.9,558.7 458.2,560.6" fill="#08abee"/>
<polygon points="728.4,653.6 741.4,654.6 754.5,655.2 761.8,652.5 769.1,649.9 756.0,649.3 743.0,648.3 735.7,650.9" fill="#4f4afc"/>
<polygon points="476.3,585.8 489.3,596.0 502.2,605.5 509.9,602.0 517.6,599.3 504.7,590.1 491.8,580.3 484.1,582.6" fill="#1b95f3"/>
<polygon points="424.4,537.9 437.4,551.0 450.4,563.3 458.2,560.6 465.9,558.7 453.0,546.8 440.0,534.3 432.2,535.6" fill="#0ec3e7"/>
<polygon points="1080.6,558.1 1094.3,549.5 1108.2,540.1 1115.0,538.1 1121.7,536.1 1107.9,545.2 1094.1,553.6 1087.4,555.9" fill="#0fc4e7"/>
<polygon points="502.2,605.5 515.1,614.4 528.1,622.6 535.7,618.9 543.4,615.9 530.5,607.9 517.6,599.3 509.9,602.0" fill="#2a80f6"/>
<polygon points="835.9,642.2 849.1,640.3 862.4,637.9 869.5,635.6 876.6,633.3 863.4,635.6 850.3,637.5 843.1,639.8" fill="#425ffa"/>
<polygon points="335.3,404.1 348.5,423.6 361.7,442.1 369.7,442.9 377.6,442.8 364.5,425.1 351.4,406.6 343.4,405.8" fill="#7effb5"/>
<polygon points="398.3,509.4 411.3,524.1 424.4,537.9 432.2,535.6 440.0,534.3 427.1,520.9 414.0,506.8 406.2,507.6" fill="#27dade"/>
<polygon points="528.1,622.6 541.0,630.3 553.9,637.3 561.5,633.3 569.1,630.1 556.2,623.3 543.4,615.9 535.7,618.9" fill="#366ff9"/>
<polygon points="620.8,651.8 633.7,655.9 646.7,659.4 654.2,656.0 661.7,651.9 648.7,648.4 635.8,644.4 628.3,648.4" fill="#4d4ffc"/>
<polygon points="1121.7,536.1 1135.6,526.1 1149.6,515.4 1156.3,513.4 1163.0,511.4 1149.0,521.9 1135.1,531.6 1128.4,533.9" fill="#26d9de"/>
<polygon points="795.2,649.5 808.3,648.6 821.5,647.1 828.7,644.7 835.9,642.2 822.8,643.6 809.7,644.5 802.5,647.0" fill="#4758fb"/>
<polygon points="687.6,657.3 700.6,659.3 713.6,660.8 721.0,656.8 728.4,653.6 715.4,652.1 702.4,650.1 695.0,653.4" fill="#4f4bfc"/>
<polygon points="372.0,477.5 385.2,493.9 398.3,509.4 406.2,507.6 414.0,506.8 401.0,491.9 387.9,476.2 380.0,476.3" fill="#44eed2"/>
<polygon points="553.9,637.3 566.9,643.7 579.8,649.6 587.4,645.5 595.0,642.0 582.0,636.3 569.1,630.1 561.5,633.3" fill="#4062fa"/>
<polygon points="754.5,655.2 767.5,655.2 780.7,654.7 787.9,652.1 795.2,649.5 782.1,650.0 769.1,649.9 761.8,652.5" fill="#4953fb"/>
<polygon points="646.7,659.4 659.7,662.5 672.7,665.0 680.1,661.5 687.6,657.3 674.6,654.8 661.7,651.9 654.2,656.0" fill="#4e4dfc"/>
<polygon points="944.0,614.0 957.5,608.9 971.0,603.1 977.9,601.1 984.9,599.0 971.4,604.7 958.0,609.7 951.0,611.9" fill="#1f8ff4"/>
<polygon points="579.8,649.6 592.7,654.9 605.7,659.6 613.3,655.4 620.8,651.8 607.9,647.2 595.0,642.0 587.4,645.5" fill="#4658fb"/>
<polygon points="984.9,599.0 998.5,592.7 1012.1,585.8 1019.0,583.8 1025.9,581.8 1012.3,588.6 998.8,594.8 991.9,596.9" fill="#10a1f0"/>
<polygon points="903.2,626.9 916.5,622.8 929.9,618.2 937.0,616.1 944.0,614.0 930.6,618.6 917.3,622.5 910.3,624.7" fill="#2b7ff6"/>
<polygon points="345.6,441.8 358.9,460.1 372.0,477.5 380.0,476.3 387.9,476.2 374.8,459.6 361.7,442.1 353.7,441.4" fill="#65fcc2"/>
<polygon points="1025.9,581.8 1039.5,574.3 1053.3,566.1 1060.1,564.2 1067.0,562.2 1053.3,570.3 1039.6,577.6 1032.8,579.7" fill="#01b5eb"/>
<polygon points="713.6,660.8 726.7,661.8 739.7,662.2 747.1,658.3 754.5,655.2 741.4,654.6 728.4,653.6 721.0,656.8" fill="#4b51fc"/>
<polygon points="862.4,637.9 875.6,634.9 889.0,631.3 896.1,629.1 903.2,626.9 889.9,630.4 876.6,633.3 869.5,635.6" fill="#3472f8"/>
<polygon points="460.7,589.3 473.7,599.8 486.7,609.6 494.5,608.5 502.2,605.5 489.3,596.0 476.3,585.8 468.6,588.5" fill="#159bf2"/>
<polygon points="434.7,566.2 447.7,578.1 460.7,589.3 468.6,588.5 476.3,585.8 463.4,574.9 450.4,563.3 442.6,565.7" fill="#02b2ec"/>
<polygon points="486.7,609.6 499.7,618.7 512.7,627.2 520.4,625.9 528.1,622.6 515.1,614.4 502.2,605.5 494.5,608.5" fill="#2586f5"/>
<polygon points="1067.0,562.2 1080.8,553.5 1094.6,543.9 1101.4,542.1 1108.2,540.1 1094.3,549.5 1080.6,558.1 1073.8,560.2" fill="#15cae5"/>
<polygon points="408.6,540.0 421.7,553.5 434.7,566.2 442.6,565.7 450.4,563.3 437.4,551.0 424.4,537.9 416.5,539.9" fill="#14c9e5"/>
<polygon points="821.5,647.1 834.7,645.1 848.0,642.6 855.2,640.2 862.4,637.9 849.1,640.3 835.9,642.2 828.7,644.7" fill="#3c67f9"/>
<polygon points="605.7,659.6 618.7,663.8 631.7,667.4 639.2,663.1 646.7,659.4 633.7,655.9 620.8,651.8 613.3,655.4" fill="#4a52fc"/>
<polygon points="512.7,627.2 525.6,635.0 538.6,642.2 546.3,640.7 553.9,637.3 541.0,630.3 528.1,622.6 520.4,625.9" fill="#3275f8"/>
<polygon points="672.7,665.0 685.7,666.9 698.8,668.3 706.2,664.9 713.6,660.8 700.6,659.3 687.6,657.3 680.1,661.5" fill="#4d4ffc"/>
<polygon points="382.4,510.5 395.5,525.7 408.6,540.0 416.5,539.9 424.4,537.9 411.3,524.1 398.3,509.4 390.4,510.9" fill="#2fe0db"/>
<polygon points="1108.2,540.1 1122.1,530.0 1136.2,519.1 1142.9,517.3 1149.6,515.4 1135.6,526.1 1121.7,536.1 1115.0,538.1" fill="#2cdedc"/>
<polygon points="780.7,654.7 793.8,653.7 807.0,652.1 814.3,649.6 821.5,647.1 808.3,648.6 795.2,649.5 787.9,652.1" fill="#4160fa"/>
<polygon points="319.0,402.2 332.4,422.6 345.6,441.8 353.7,441.4 361.7,442.1 348.5,423.6 335.3,404.1 327.2,402.6" fill="#8afeae"/>
<polygon points="538.6,642.2 551.6,648.8 564.5,654.8 572.2,653.2 579.8,649.6 566.9,643.7 553.9,637.3 546.3,640.7" fill="#3c67fa"/>
<polygon points="356.0,477.6 369.2,494.5 382.4,510.5 390.4,510.9 398.3,509.4 385.2,493.9 372.0,477.5 364.1,478.4" fill="#4df3ce"/>
<polygon points="739.7,662.2 752.8,662.1 766.0,661.5 773.3,657.8 780.7,654.7 767.5,655.2 754.5,655.2 747.1,658.3" fill="#455afb"/>
<polygon points="631.7,667.4 644.7,670.4 657.7,672.9 665.2,668.6 672.7,665.0 659.7,662.5 646.7,659.4 639.2,663.1" fill="#4c50fc"/>
<polygon points="564.5,654.8 577.5,660.2 590.5,665.0 598.1,663.3 605.7,659.6 592.7,654.9 579.8,649.6 572.2,653.2" fill="#435dfb"/>
<polygon points="929.9,618.2 943.4,612.9 956.9,607.0 964.0,605.1 971.0,603.1 957.5,608.9 944.0,614.0 937.0,616.1" fill="#1997f2"/>
<polygon points="971.0,603.1 984.5,596.7 998.2,589.5 1005.1,587.7 1012.1,585.8 998.5,592.7 984.9,599.0 977.9,601.1" fill="#0aa9ee"/>
<polygon points="889.0,631.3 902.3,627.1 915.8,622.4 922.9,620.3 929.9,618.2 916.5,622.8 903.2,626.9 896.1,629.1" fill="#2587f5"/>
<polygon points="698.8,668.3 711.8,669.2 724.9,669.6 732.3,666.2 739.7,662.2 726.7,661.8 713.6,660.8 706.2,664.9" fill="#4954fb"/>
<polygon points="1012.1,585.8 1025.7,578.1 1039.5,569.7 1046.4,567.9 1053.3,566.1 1039.5,574.3 1025.9,581.8 1019.0,583.8" fill="#07bce9"/>
<polygon points="848.0,642.6 861.3,639.5 874.6,635.8 881.8,633.5 889.0,631.3 875.6,634.9 862.4,637.9 855.2,640.2" fill="#2f7af7"/>
<polygon points="329.5,440.8 342.8,459.7 356.0,477.6 364.1,478.4 372.0,477.5 358.9,460.1 345.6,441.8 337.6,442.2" fill="#6ffebd"/>
<polygon points="1053.3,566.1 1067.1,557.1 1081.0,547.4 1087.8,545.7 1094.6,543.9 1080.8,553.5 1067.0,562.2 1060.1,564.2" fill="#1cd0e2"/>
<polygon points="807.0,652.1 820.2,650.0 833.5,647.4 840.8,645.0 848.0,642.6 834.7,645.1 821.5,647.1 814.3,649.6" fill="#366ff9"/>
<polygon points="590.5,665.0 603.5,669.3 616.5,672.9 624.1,671.1 631.7,667.4 618.7,663.8 605.7,659.6 598.1,663.3" fill="#4757fb"/>
<polygon points="444.9,583.6 457.9,594.2 471.0,604.1 478.9,608.1 486.7,609.6 473.7,599.8 460.7,589.3 452.9,587.7" fill="#09aaee"/>
<polygon points="418.7,560.1 431.8,572.2 444.9,583.6 452.9,587.7 460.7,589.3 447.7,578.1 434.7,566.2 426.8,564.4" fill="#0abfe8"/>
<polygon points="657.7,672.9 670.7,674.9 683.8,676.2 691.3,671.9 698.8,668.3 685.7,666.9 672.7,665.0 665.2,668.6" fill="#4a52fc"/>
<polygon points="471.0,604.1 484.0,613.3 497.0,621.9 504.9,625.7 512.7,627.2 499.7,618.7 486.7,609.6 478.9,608.1" fill="#1a96f3"/>
<polygon points="392.5,533.4 405.6,547.2 418.7,560.1 426.8,564.4 434.7,566.2 421.7,553.5 408.6,540.0 400.6,538.0" fill="#22d5e0"/>
<polygon points="766.0,661.5 779.2,660.4 792.4,658.7 799.7,655.1 807.0,652.1 793.8,653.7 780.7,654.7 773.3,657.8" fill="#3d66fa"/>
<polygon points="1094.6,543.9 1108.6,533.6 1122.6,522.4 1129.4,520.8 1136.2,519.1 1122.1,530.0 1108.2,540.1 1101.4,542.1" fill="#33e3d9"/>
<polygon points="497.0,621.9 510.0,629.8 523.0,637.1 530.9,640.8 538.6,642.2 525.6,635.0 512.7,627.2 504.9,625.7" fill="#2785f6"/>
<polygon points="366.1,503.0 379.3,518.6 392.5,533.4 400.6,538.0 408.6,540.0 395.5,525.7 382.4,510.5 374.3,508.1" fill="#3dead5"/>
<polygon points="302.7,399.8 316.1,420.8 329.5,440.8 337.6,442.2 345.6,441.8 332.4,422.6 319.0,402.2 310.9,401.9" fill="#96fda7"/>
<polygon points="724.9,669.6 738.1,669.4 751.2,668.6 758.6,665.4 766.0,661.5 752.8,662.1 739.7,662.2 732.3,666.2" fill="#425efb"/>
<polygon points="523.0,637.1 536.1,643.9 549.1,650.0 556.8,653.6 564.5,654.8 551.6,648.8 538.6,642.2 530.9,640.8" fill="#3177f8"/>
<polygon points="616.5,672.9 629.6,676.0 642.6,678.5 650.2,676.7 657.7,672.9 644.7,670.4 631.7,667.4 624.1,671.1" fill="#4855fb"/>
<polygon points="683.8,676.2 696.9,677.0 710.0,677.3 717.5,673.0 724.9,669.6 711.8,669.2 698.8,668.3 691.3,671.9" fill="#4658fb"/>
<polygon points="339.6,468.8 352.9,486.4 366.1,503.0 374.3,508.1 382.4,510.5 369.2,494.5 356.0,477.6 347.8,474.6" fill="#5cf9c7"/>
<polygon points="915.8,622.4 929.2,617.0 942.8,610.9 949.9,609.0 956.9,607.0 943.4,612.9 929.9,618.2 922.9,620.3" fill="#129ff1"/>
<polygon points="956.9,607.0 970.5,600.4 984.2,593.2 991.2,591.4 998.2,589.5 984.5,596.7 971.0,603.1 964.0,605.1" fill="#03b1ed"/>
<polygon points="874.6,635.8 888.0,631.5 901.5,626.6 908.6,624.5 915.8,622.4 902.3,627.1 889.0,631.3 881.8,633.5" fill="#1f8ff4"/>
<polygon points="549.1,650.0 562.1,655.6 575.2,660.6 582.9,664.0 590.5,665.0 577.5,660.2 564.5,654.8 556.8,653.6" fill="#386df9"/>
<polygon points="998.2,589.5 1011.9,581.7 1025.6,573.2 1032.6,571.5 1039.5,569.7 1025.7,578.1 1012.1,585.8 1005.1,587.7" fill="#0ec3e7"/>
<polygon points="833.5,647.4 846.9,644.1 860.2,640.3 867.4,638.0 874.6,635.8 861.3,639.5 848.0,642.6 840.8,645.0" fill="#2982f6"/>
<polygon points="792.4,658.7 805.7,656.4 819.0,653.5 826.3,650.1 833.5,647.4 820.2,650.0 807.0,652.1 799.7,655.1" fill="#3176f8"/>
<polygon points="642.6,678.5 655.7,680.4 668.8,681.7 676.3,680.0 683.8,676.2 670.7,674.9 657.7,672.9 650.2,676.7" fill="#4757fb"/>
<polygon points="1039.5,569.7 1053.3,560.6 1067.3,550.7 1074.1,549.0 1081.0,547.4 1067.1,557.1 1053.3,566.1 1046.4,567.9" fill="#23d6e0"/>
<polygon points="751.2,668.6 764.4,667.2 777.7,665.3 785.0,662.3 792.4,658.7 779.2,660.4 766.0,661.5 758.6,665.4" fill="#396bf9"/>
<polygon points="575.2,660.6 588.2,665.1 601.3,668.9 608.9,672.1 616.5,672.9 603.5,669.3 590.5,665.0 582.9,664.0" fill="#3c66fa"/>
<polygon points="312.8,430.2 326.2,450.0 339.6,468.8 347.8,474.6 356.0,477.6 342.8,459.7 329.5,440.8 321.2,437.0" fill="#80ffb4"/>
<polygon points="1081.0,547.4 1095.0,536.9 1109.1,525.5 1115.9,524.0 1122.6,522.4 1108.6,533.6 1094.6,543.9 1087.8,545.7" fill="#3ae8d7"/>
<polygon points="710.0,677.3 723.2,676.9 736.4,676.0 743.8,671.9 751.2,668.6 738.1,669.4 724.9,669.6 717.5,673.0" fill="#4062fa"/>
<polygon points="601.3,668.9 614.3,672.3 627.4,674.5 635.0,677.6 642.6,678.5 629.6,676.0 616.5,672.9 608.9,672.1" fill="#3e64fa"/>
<polygon points="668.8,681.7 681.9,682.5 695.1,682.6 702.6,680.9 710.0,677.3 696.9,677.0 683.8,676.2 676.3,680.0" fill="#435dfb"/>
<polygon points="428.4,554.4 441.5,565.4 454.6,575.7 462.9,595.7 471.0,604.1 457.9,594.2 444.9,583.6 436.8,574.9" fill="#15cae5"/>
<polygon points="402.0,529.9 415.2,542.6 428.4,554.4 436.8,574.9 444.9,583.6 431.8,572.2 418.7,560.1 410.5,551.0" fill="#29dcdd"/>
<polygon points="285.8,386.7 299.4,409.1 312.8,430.2 321.2,437.0 329.5,440.8 316.1,420.8 302.7,399.8 294.3,394.8" fill="#a8f79c"/>
<polygon points="454.6,575.7 467.7,585.2 480.8,594.1 489.0,613.8 497.0,621.9 484.0,613.3 471.0,604.1 462.9,595.7" fill="#04b9ea"/>
<polygon points="901.5,626.6 915.0,621.0 928.6,614.8 935.7,612.9 942.8,610.9 929.2,617.0 915.8,622.4 908.6,624.5" fill="#0ca7ef"/>
<polygon points="860.2,640.3 873.7,635.8 887.1,630.7 894.3,628.7 901.5,626.6 888.0,631.5 874.6,635.8 867.4,638.0" fill="#1897f2"/>
<polygon points="942.8,610.9 956.4,604.2 970.1,596.7 977.1,595.0 984.2,593.2 970.5,600.4 956.9,607.0 949.9,609.0" fill="#03b8eb"/>
<polygon points="819.0,653.5 832.3,650.0 845.7,645.9 853.0,642.9 860.2,640.3 846.9,644.1 833.5,647.4 826.3,650.1" fill="#2389f5"/>
<polygon points="375.6,501.9 388.8,516.4 402.0,529.9 410.5,551.0 418.7,560.1 405.6,547.2 392.5,533.4 384.2,523.7" fill="#41ecd3"/>
<polygon points="480.8,594.1 493.9,602.2 507.0,609.8 515.1,629.2 523.0,637.1 510.0,629.8 497.0,621.9 489.0,613.8" fill="#09aaee"/>
<polygon points="984.2,593.2 997.9,585.2 1011.7,576.4 1018.7,574.8 1025.6,573.2 1011.9,581.7 998.2,589.5 991.2,591.4" fill="#15cae5"/>
<polygon points="777.7,665.3 791.0,662.8 804.3,659.6 811.6,656.9 819.0,653.5 805.7,656.4 792.4,658.7 785.0,662.3" fill="#2e7bf7"/>
<polygon points="1025.6,573.2 1039.5,563.8 1053.5,553.7 1060.4,552.2 1067.3,550.7 1053.3,560.6 1039.5,569.7 1032.6,571.5" fill="#2adcdd"/>
<polygon points="736.4,676.0 749.6,674.4 762.9,672.3 770.3,668.4 777.7,665.3 764.4,667.2 751.2,668.6 743.8,671.9" fill="#366ff9"/>
<polygon points="507.0,609.8 520.1,616.8 533.2,623.3 541.3,642.4 549.1,650.0 536.1,643.9 523.0,637.1 515.1,629.2" fill="#149df1"/>
<polygon points="348.9,469.7 362.3,486.3 375.6,501.9 384.2,523.7 392.5,533.4 379.3,518.6 366.1,503.0 357.7,492.6" fill="#5df9c6"/>
<polygon points="627.4,674.5 640.5,676.2 653.7,677.3 661.2,680.7 668.8,681.7 655.7,680.4 642.6,678.5 635.0,677.6" fill="#3c66fa"/>
<polygon points="695.1,682.6 708.3,682.2 721.5,681.1 728.9,679.5 736.4,676.0 723.2,676.9 710.0,677.3 702.6,680.9" fill="#3c67fa"/>
<polygon points="1067.3,550.7 1081.3,539.9 1095.4,528.3 1102.2,526.9 1109.1,525.5 1095.0,536.9 1081.0,547.4 1074.1,549.0" fill="#41ecd3"/>
<polygon points="533.2,623.3 546.3,629.2 559.5,634.5 567.4,653.2 575.2,660.6 562.1,655.6 549.1,650.0 541.3,642.4" fill="#1b94f3"/>
<polygon points="322.1,433.1 335.6,452.0 348.9,469.7 357.7,492.6 366.1,503.0 352.9,486.4 339.6,468.8 331.1,457.4" fill="#7effb5"/>
<polygon points="559.5,634.5 572.6,639.2 585.7,643.4 593.5,661.8 601.3,668.9 588.2,665.1 575.2,660.6 567.4,653.2" fill="#208df4"/>
<polygon points="653.7,677.3 666.8,677.9 680.0,677.9 687.6,681.4 695.1,682.6 681.9,682.5 668.8,681.7 661.2,680.7" fill="#386df9"/>
<polygon points="887.1,630.7 900.7,625.0 914.3,618.5 921.4,616.7 928.6,614.8 915.0,621.0 901.5,626.6 894.3,628.7" fill="#05afed"/>
<polygon points="845.7,645.9 859.2,641.2 872.7,635.8 879.9,633.0 887.1,630.7 873.7,635.8 860.2,640.3 853.0,642.9" fill="#139ef1"/>
<polygon points="804.3,659.6 817.7,655.8 831.1,651.4 838.4,649.0 845.7,645.9 832.3,650.0 819.0,653.5 811.6,656.9" fill="#1f8ff4"/>
<polygon points="928.6,614.8 942.2,607.9 955.9,600.2 963.0,598.5 970.1,596.7 956.4,604.2 942.8,610.9 935.7,612.9" fill="#0abfe8"/>
<polygon points="762.9,672.3 776.2,669.5 789.5,666.1 796.9,662.4 804.3,659.6 791.0,662.8 777.7,665.3 770.3,668.4" fill="#2a80f6"/>
<polygon points="970.1,596.7 983.9,588.6 997.7,579.6 1004.7,578.0 1011.7,576.4 997.9,585.2 984.2,593.2 977.1,595.0" fill="#1cd1e2"/>
<polygon points="295.1,391.4 308.6,413.0 322.1,433.1 331.1,457.4 339.6,468.8 326.2,450.0 312.8,430.2 304.2,417.4" fill="#a4f99f"/>
<polygon points="721.5,681.1 734.7,679.4 748.0,677.1 755.4,675.7 762.9,672.3 749.6,674.4 736.4,676.0 728.9,679.5" fill="#3275f8"/>
<polygon points="1011.7,576.4 1025.6,566.9 1039.6,556.6 1046.5,555.2 1053.5,553.7 1039.5,563.8 1025.6,573.2 1018.7,574.8" fill="#31e2da"/>
<polygon points="585.7,643.4 598.9,647.0 612.0,649.1 619.8,667.4 627.4,674.5 614.3,672.3 601.3,668.9 593.5,661.8" fill="#228bf5"/>
<polygon points="1053.5,553.7 1067.5,542.7 1081.6,530.9 1088.5,529.6 1095.4,528.3 1081.3,539.9 1067.3,550.7 1060.4,552.2" fill="#49f1d0"/>
<polygon points="680.0,677.9 693.3,677.3 706.5,676.1 714.0,679.8 721.5,681.1 708.3,682.2 695.1,682.6 687.6,681.4" fill="#3177f8"/>
<polygon points="267.7,343.9 281.4,368.4 295.1,391.4 304.2,417.4 312.8,430.2 299.4,409.1 285.8,386.7 277.0,372.1" fill="#d0e083"/>
<polygon points="612.0,649.1 625.2,650.6 638.4,651.5 646.1,669.9 653.7,677.3 640.5,676.2 627.4,674.5 619.8,667.4" fill="#208df4"/>
<polygon points="831.1,651.4 844.6,646.2 858.1,640.4 865.4,638.5 872.7,635.8 859.2,641.2 845.7,645.9 838.4,649.0" fill="#0ea5ef"/>
<polygon points="789.5,666.1 802.9,662.0 816.4,657.2 823.8,653.8 831.1,651.4 817.7,655.8 804.3,659.6 796.9,662.4" fill="#1a95f3"/>
<polygon points="872.7,635.8 886.2,629.7 899.9,622.9 907.1,620.5 914.3,618.5 900.7,625.0 887.1,630.7 879.9,633.0" fill="#01b6eb"/>
<polygon points="914.3,618.5 927.9,611.4 941.7,603.5 948.8,601.9 955.9,600.2 942.2,607.9 928.6,614.8 921.4,616.7" fill="#11c7e6"/>
<polygon points="748.0,677.1 761.3,674.1 774.7,670.4 782.1,669.2 789.5,666.1 776.2,669.5 762.9,672.3 755.4,675.7" fill="#2586f5"/>
<polygon points="411.4,514.1 424.6,525.5 437.9,536.1 446.2,554.4 454.6,575.7 441.5,565.4 428.4,554.4 419.9,532.7" fill="#4bf2cf"/>
<polygon points="955.9,600.2 969.7,591.8 983.6,582.7 990.6,581.2 997.7,579.6 983.9,588.6 970.1,596.7 963.0,598.5" fill="#24d7e0"/>
<polygon points="136.6,803.3 149.3,807.0 162.0,809.4 165.8,714.2 169.7,618.9 157.0,618.4 144.1,615.2 140.2,709.3" fill="#4855fb"/>
<polygon points="437.9,536.1 451.1,546.0 464.3,555.1 472.6,573.2 480.8,594.1 467.7,585.2 454.6,575.7 446.2,554.4" fill="#39e8d7"/>
<polygon points="384.8,488.7 398.1,501.9 411.4,514.1 419.9,532.7 428.4,554.4 415.2,542.6 402.0,529.9 393.4,507.7" fill="#60fac5"/>
<polygon points="464.3,555.1 477.5,563.4 490.7,571.2 498.9,589.2 507.0,609.8 493.9,602.2 480.8,594.1 472.6,573.2" fill="#2cdedc"/>
<polygon points="997.7,579.6 1011.6,569.9 1025.6,559.3 1032.6,558.0 1039.6,556.6 1025.6,566.9 1011.7,576.4 1004.7,578.0" fill="#39e7d7"/>
<polygon points="358.1,459.5 371.5,474.7 384.8,488.7 393.4,507.7 402.0,529.9 388.8,516.4 375.6,501.9 366.8,479.0" fill="#79ffb8"/>
<polygon points="706.5,676.1 719.8,674.3 733.1,671.9 740.6,675.7 748.0,677.1 734.7,679.4 721.5,681.1 714.0,679.8" fill="#2785f6"/>
<polygon points="162.0,809.4 174.7,811.9 187.4,814.1 192.0,731.4 196.7,648.9 183.2,633.5 169.7,618.9 165.8,714.2" fill="#4e4cfc"/>
<polygon points="490.7,571.2 503.9,578.6 517.1,585.5 525.2,603.1 533.2,623.3 520.1,616.8 507.0,609.8 498.9,589.2" fill="#20d5e1"/>
<polygon points="638.4,651.5 651.6,651.8 664.9,651.6 672.5,670.2 680.0,677.9 666.8,677.9 653.7,677.3 646.1,669.9" fill="#1b93f3"/>
<polygon points="1039.6,556.6 1053.6,545.4 1067.8,533.3 1074.7,532.1 1081.6,530.9 1067.5,542.7 1053.5,553.7 1046.5,555.2" fill="#50f4cc"/>
<polygon points="331.2,425.2 344.7,442.9 358.1,459.5 366.8,479.0 375.6,501.9 362.3,486.3 348.9,469.7 340.1,445.6" fill="#97fca7"/>
<polygon points="187.4,814.1 200.1,815.3 212.8,817.3 217.9,741.1 223.1,665.5 209.9,657.5 196.7,648.9 192.0,731.4" fill="#573efd"/>
<polygon points="517.1,585.5 530.3,591.6 543.5,597.2 551.5,614.5 559.5,634.5 546.3,629.2 533.2,623.3 525.2,603.1" fill="#18cde4"/>
<polygon points="816.4,657.2 829.9,651.7 843.5,645.4 850.8,642.5 858.1,640.4 844.6,646.2 831.1,651.4 823.8,653.8" fill="#08abee"/>
<polygon points="774.7,670.4 788.1,666.1 801.6,661.0 809.0,660.1 816.4,657.2 802.9,662.0 789.5,666.1 782.1,669.2" fill="#159bf2"/>
<polygon points="858.1,640.4 871.7,633.9 885.4,626.5 892.6,625.1 899.9,622.9 886.2,629.7 872.7,635.8 865.4,638.5" fill="#07bce9"/>
<polygon points="212.8,817.3 225.7,822.2 238.6,828.0 244.0,755.3 249.5,683.0 236.2,671.4 223.1,665.5 217.9,741.1" fill="#5e34fe"/>
<polygon points="304.1,386.3 317.7,406.4 331.2,425.2 340.1,445.6 348.9,469.7 335.6,452.0 322.1,433.1 313.1,407.8" fill="#baef91"/>
<polygon points="899.9,622.9 913.6,615.4 927.3,607.0 934.5,605.1 941.7,603.5 927.9,611.4 914.3,618.5 907.1,620.5" fill="#18cde4"/>
<polygon points="543.5,597.2 556.7,602.2 569.9,606.7 577.8,623.8 585.7,643.4 572.6,639.2 559.5,634.5 551.5,614.5" fill="#12c8e6"/>
<polygon points="941.7,603.5 955.5,594.8 969.4,585.3 976.5,584.1 983.6,582.7 969.7,591.8 955.9,600.2 948.8,601.9" fill="#2bdddd"/>
<polygon points="733.1,671.9 746.5,668.8 759.9,665.1 767.3,669.0 774.7,670.4 761.3,674.1 748.0,677.1 740.6,675.7" fill="#1a96f3"/>
<polygon points="664.9,651.6 678.2,650.9 691.5,649.5 699.0,668.2 706.5,676.1 693.3,677.3 680.0,677.9 672.5,670.2" fill="#149df1"/>
<polygon points="238.6,828.0 251.5,831.2 264.3,832.8 270.1,767.1 276.0,702.2 262.8,694.9 249.5,683.0 244.0,755.3" fill="#6825fe"/>
<polygon points="983.6,582.7 997.5,572.7 1011.5,561.8 1018.6,560.6 1025.6,559.3 1011.6,569.9 997.7,579.6 990.6,581.2" fill="#40ecd4"/>
<polygon points="569.9,606.7 583.1,610.6 596.4,612.6 604.2,629.5 612.0,649.1 598.9,647.0 585.7,643.4 577.8,623.8" fill="#10c5e7"/>
<polygon points="276.7,341.4 290.4,364.7 304.1,386.3 313.1,407.8 322.1,433.1 308.6,413.0 295.1,391.4 285.8,364.3" fill="#e3d176"/>
<polygon points="264.3,832.8 277.2,835.1 290.1,837.8 296.1,775.1 302.3,713.3 289.1,707.6 276.0,702.2 270.1,767.1" fill="#6c1eff"/>
<polygon points="1025.6,559.3 1039.7,547.9 1053.9,535.6 1060.8,534.5 1067.8,533.3 1053.6,545.4 1039.6,556.6 1032.6,558.0" fill="#58f8c9"/>
<polygon points="801.6,661.0 815.2,655.2 828.7,648.6 836.1,648.0 843.5,645.4 829.9,651.7 816.4,657.2 809.0,660.1" fill="#02b2ec"/>
<polygon points="691.5,649.5 704.9,647.6 718.3,644.9 725.7,663.8 733.1,671.9 719.8,674.3 706.5,676.1 699.0,668.2" fill="#09a9ee"/>
<polygon points="843.5,645.4 857.1,638.4 870.8,630.6 878.1,628.1 885.4,626.5 871.7,633.9 858.1,640.4 850.8,642.5" fill="#0ec3e7"/>
<polygon points="290.1,837.8 303.0,840.1 315.9,843.2 322.3,786.9 328.8,731.7 315.6,724.8 302.3,713.3 296.1,775.1" fill="#7216ff"/>
<polygon points="596.4,612.6 609.6,614.1 622.9,614.9 630.7,631.9 638.4,651.5 625.2,650.6 612.0,649.1 604.2,629.5" fill="#12c7e6"/>
<polygon points="885.4,626.5 899.1,618.5 912.9,609.6 920.1,608.7 927.3,607.0 913.6,615.4 899.9,622.9 892.6,625.1" fill="#1fd3e1"/>
<polygon points="759.9,665.1 773.4,660.6 786.9,655.4 794.3,659.5 801.6,661.0 788.1,666.1 774.7,670.4 767.3,669.0" fill="#09aaee"/>
<polygon points="927.3,607.0 941.2,597.9 955.1,588.0 962.2,586.6 969.4,585.3 955.5,594.8 941.7,603.5 934.5,605.1" fill="#33e3da"/>
<polygon points="394.5,489.3 407.9,501.0 421.2,512.0 429.5,520.5 437.9,536.1 424.6,525.5 411.4,514.1 402.9,498.1" fill="#7cffb6"/>
<polygon points="421.2,512.0 434.5,522.3 447.8,531.7 456.0,539.9 464.3,555.1 451.1,546.0 437.9,536.1 429.5,520.5" fill="#6afdc0"/>
<polygon points="367.8,463.1 381.2,476.6 394.5,489.3 402.9,498.1 411.4,514.1 398.1,501.9 384.8,488.7 376.2,472.3" fill="#92fdaa"/>
<polygon points="315.9,843.2 328.9,847.2 341.9,849.8 348.4,795.2 355.1,741.6 342.0,737.7 328.8,731.7 322.3,786.9" fill="#770eff"/>
<polygon points="248.9,289.5 262.8,316.4 276.7,341.4 285.8,364.3 295.1,391.4 281.4,368.4 267.7,343.9 258.2,314.4" fill="#ff9e54"/>
<polygon points="447.8,531.7 461.0,540.1 474.3,548.1 482.5,556.1 490.7,571.2 477.5,563.4 464.3,555.1 456.0,539.9" fill="#5cf9c7"/>
<polygon points="969.4,585.3 983.3,575.0 997.4,563.8 1004.5,562.9 1011.5,561.8 997.5,572.7 983.6,582.7 976.5,584.1" fill="#48f0d0"/>
<polygon points="340.9,432.8 354.3,448.6 367.8,463.1 376.2,472.3 384.8,488.7 371.5,474.7 358.1,459.5 349.4,442.5" fill="#acf69a"/>
<polygon points="474.3,548.1 487.6,555.9 500.9,563.1 508.9,570.8 517.1,585.5 503.9,578.6 490.7,571.2 482.5,556.1" fill="#50f4cd"/>
<polygon points="622.9,614.9 636.2,615.0 649.6,614.8 657.3,631.9 664.9,651.6 651.6,651.8 638.4,651.5 630.7,631.9" fill="#17cce4"/>
<polygon points="1011.5,561.8 1025.6,550.1 1039.9,537.5 1046.9,536.6 1053.9,535.6 1039.7,547.9 1025.6,559.3 1018.6,560.6" fill="#61fac5"/>
<polygon points="341.9,849.8 354.8,850.7 367.9,853.1 374.6,802.4 381.5,752.8 368.2,746.0 355.1,741.6 348.4,795.2" fill="#780bff"/>
<polygon points="718.3,644.9 731.7,641.6 745.2,637.4 752.5,656.7 759.9,665.1 746.5,668.8 733.1,671.9 725.7,663.8" fill="#04b9ea"/>
<polygon points="500.9,563.1 514.1,569.4 527.4,575.1 535.4,582.6 543.5,597.2 530.3,591.6 517.1,585.5 508.9,570.8" fill="#47f0d1"/>
<polygon points="313.7,396.7 327.3,415.3 340.9,432.8 349.4,442.5 358.1,459.5 344.7,442.9 331.2,425.2 322.4,407.3" fill="#cbe486"/>
<polygon points="828.7,648.6 842.4,641.3 856.1,633.1 863.4,632.8 870.8,630.6 857.1,638.4 843.5,645.4 836.1,648.0" fill="#14c9e5"/>
<polygon points="786.9,655.4 800.4,649.5 814.1,642.7 821.4,647.0 828.7,648.6 815.2,655.2 801.6,661.0 794.3,659.5" fill="#0abfe8"/>
<polygon points="870.8,630.6 884.5,622.0 898.4,612.5 905.6,610.6 912.9,609.6 899.1,618.5 885.4,626.5 878.1,628.1" fill="#27dade"/>
<polygon points="527.4,575.1 540.7,580.2 554.0,584.5 561.9,592.1 569.9,606.7 556.7,602.2 543.5,597.2 535.4,582.6" fill="#41ecd3"/>
<polygon points="367.9,853.1 381.0,858.3 394.1,863.3 400.9,811.4 407.8,760.4 394.6,757.1 381.5,752.8 374.6,802.4" fill="#7b06ff"/>
<polygon points="912.9,609.6 926.8,599.8 940.7,589.2 947.9,589.0 955.1,588.0 941.2,597.9 927.3,607.0 920.1,608.7" fill="#3be9d6"/>
<polygon points="286.4,356.5 300.1,377.2 313.7,396.7 322.4,407.3 331.2,425.2 317.7,406.4 304.1,386.3 295.1,367.7" fill="#f0c46c"/>
<polygon points="649.6,614.8 662.9,614.0 676.3,612.6 684.0,629.7 691.5,649.5 678.2,650.9 664.9,651.6 657.3,631.9" fill="#1fd3e1"/>
<polygon points="955.1,588.0 969.1,577.1 983.2,565.4 990.3,564.7 997.4,563.8 983.3,575.0 969.4,585.3 962.2,586.6" fill="#51f5cc"/>
<polygon points="554.0,584.5 567.3,588.4 580.6,590.7 588.5,598.1 596.4,612.6 583.1,610.6 569.9,606.7 561.9,592.1" fill="#3eebd5"/>
<polygon points="394.1,863.3 407.2,866.5 420.3,869.0 427.2,816.5 434.2,764.9 420.9,760.2 407.8,760.4 400.9,811.4" fill="#7c05ff"/>
<polygon points="745.2,637.4 758.7,632.6 772.3,627.0 779.5,646.7 786.9,655.4 773.4,660.6 759.9,665.1 752.5,656.7" fill="#15cae5"/>
<polygon points="997.4,563.8 1011.5,551.8 1025.8,538.7 1032.8,538.2 1039.9,537.5 1025.6,550.1 1011.5,561.8 1004.5,562.9" fill="#69fdc0"/>
<polygon points="378.0,482.0 391.4,493.8 404.7,505.0 413.0,507.4 421.2,512.0 407.9,501.0 394.5,489.3 386.2,484.5" fill="#99fca6"/>
<polygon points="404.7,505.0 418.1,515.7 431.4,525.2 439.6,527.4 447.8,531.7 434.5,522.3 421.2,512.0 413.0,507.4" fill="#86ffb1"/>
<polygon points="351.1,455.4 364.5,469.1 378.0,482.0 386.2,484.5 394.5,489.3 381.2,476.6 367.8,463.1 359.4,458.0" fill="#aff498"/>
<polygon points="258.7,309.7 272.6,333.9 286.4,356.5 295.1,367.7 304.1,386.3 290.4,364.7 276.7,341.4 267.6,321.8" fill="#ff934d"/>
<polygon points="431.4,525.2 444.8,533.4 458.1,541.5 466.2,543.8 474.3,548.1 461.0,540.1 447.8,531.7 439.6,527.4" fill="#77ffb9"/>
<polygon points="249.5,683.0 262.8,694.9 276.0,702.2 282.1,640.1 288.5,584.1 275.1,574.4 261.6,561.4 255.4,618.9" fill="#26d9df"/>
<polygon points="580.6,590.7 593.9,592.6 607.3,593.5 615.1,600.7 622.9,614.9 609.6,614.1 596.4,612.6 588.5,598.1" fill="#40ecd4"/>
<polygon points="458.1,541.5 471.4,549.7 484.8,557.4 492.8,559.2 500.9,563.1 487.6,555.9 474.3,548.1 466.2,543.8" fill="#6bfdbf"/>
<polygon points="324.0,424.7 337.6,440.9 351.1,455.4 359.4,458.0 367.8,463.1 354.3,448.6 340.9,432.8 332.4,427.3" fill="#c9e587"/>
<polygon points="420.3,869.0 433.4,871.3 446.5,872.5 453.6,823.5 460.7,775.6 447.5,771.4 434.2,764.9 427.2,816.5" fill="#7d04ff"/>
<polygon points="676.3,612.6 689.8,610.5 703.3,607.7 710.8,624.9 718.3,644.9 704.9,647.6 691.5,649.5 684.0,629.7" fill="#29dcdd"/>
<polygon points="276.0,702.2 289.1,707.6 302.3,713.3 308.7,658.8 315.4,609.9 302.0,597.1 288.5,584.1 282.1,640.1" fill="#16cbe5"/>
<polygon points="856.1,633.1 869.9,624.0 883.7,614.1 891.0,614.3 898.4,612.5 884.5,622.0 870.8,630.6 863.4,632.8" fill="#2fe0db"/>
<polygon points="223.1,665.5 236.2,671.4 249.5,683.0 255.4,618.9 261.6,561.4 247.9,543.1 234.2,525.2 228.5,591.6" fill="#3ce9d6"/>
<polygon points="814.1,642.7 827.8,635.1 841.5,626.6 848.8,631.2 856.1,633.1 842.4,641.3 828.7,648.6 821.4,647.0" fill="#22d5e0"/>
<polygon points="302.3,713.3 315.6,724.8 328.8,731.7 335.4,678.6 342.2,630.7 328.8,620.1 315.4,609.9 308.7,658.8" fill="#06baea"/>
<polygon points="196.7,648.9 209.9,657.5 223.1,665.5 228.5,591.6 234.2,525.2 220.7,511.3 207.1,498.0 201.7,569.4" fill="#51f5cc"/>
<polygon points="484.8,557.4 498.1,563.8 511.4,569.5 519.4,571.3 527.4,575.1 514.1,569.4 500.9,563.1 492.8,559.2" fill="#62fbc4"/>
<polygon points="898.4,612.5 912.3,602.2 926.3,590.9 933.5,589.5 940.7,589.2 926.8,599.8 912.9,609.6 905.6,610.6" fill="#44eed2"/>
<polygon points="328.8,731.7 342.0,737.7 355.1,741.6 361.9,692.3 368.9,647.8 355.6,640.7 342.2,630.7 335.4,678.6" fill="#07acee"/>
<polygon points="169.7,618.9 183.2,633.5 196.7,648.9 201.7,569.4 207.1,498.0 193.4,480.6 179.6,462.4 174.4,536.1" fill="#6bfdbf"/>
<polygon points="296.7,387.1 310.4,406.4 324.0,424.7 332.4,427.3 340.9,432.8 327.3,415.3 313.7,396.7 305.2,390.4" fill="#eaca71"/>
<polygon points="144.1,615.2 157.0,618.4 169.7,618.9 174.4,536.1 179.6,462.4 166.1,450.5 152.5,435.6 148.0,520.4" fill="#80ffb4"/>
<polygon points="940.7,589.2 954.8,577.6 968.9,565.1 976.0,565.7 983.2,565.4 969.1,577.1 955.1,588.0 947.9,589.0" fill="#5af8c8"/>
<polygon points="446.5,872.5 459.6,874.0 472.9,878.0 480.0,828.7 487.3,780.5 474.0,780.0 460.7,775.6 453.6,823.5" fill="#7d04ff"/>
<polygon points="511.4,569.5 524.7,574.5 538.1,578.6 546.0,580.7 554.0,584.5 540.7,580.2 527.4,575.1 519.4,571.3" fill="#5cf9c7"/>
<polygon points="607.3,593.5 620.6,593.7 634.0,593.5 641.8,600.6 649.6,614.8 636.2,615.0 622.9,614.9 615.1,600.7" fill="#45efd2"/>
<polygon points="772.3,627.0 785.9,620.7 799.6,613.3 806.8,633.7 814.1,642.7 800.4,649.5 786.9,655.4 779.5,646.7" fill="#29dbde"/>
<polygon points="230.6,255.5 244.7,283.7 258.7,309.7 267.6,321.8 276.7,341.4 262.8,316.4 248.9,289.5 239.6,268.7" fill="#ff4d27"/>
<polygon points="355.1,741.6 368.2,746.0 381.5,752.8 388.2,698.8 395.2,649.3 382.0,647.8 368.9,647.8 361.9,692.3" fill="#0ca7ef"/>
<polygon points="983.2,565.4 997.3,552.7 1011.6,539.0 1018.7,539.0 1025.8,538.7 1011.5,551.8 997.4,563.8 990.3,564.7" fill="#73febb"/>
<polygon points="269.2,346.5 283.0,367.4 296.7,387.1 305.2,390.4 313.7,396.7 300.1,377.2 286.4,356.5 277.7,349.8" fill="#ffa155"/>
<polygon points="703.3,607.7 716.8,604.1 730.3,599.6 737.8,617.0 745.2,637.4 731.7,641.6 718.3,644.9 710.8,624.9" fill="#37e6d8"/>
<polygon points="361.6,487.3 375.0,498.9 388.5,510.1 396.5,505.1 404.7,505.0 391.4,493.8 378.0,482.0 369.7,482.2" fill="#a5f89e"/>
<polygon points="388.5,510.1 401.9,521.0 415.2,530.4 423.3,525.4 431.4,525.2 418.1,515.7 404.7,505.0 396.5,505.1" fill="#92fdaa"/>
<polygon points="472.9,878.0 486.1,883.1 499.3,886.1 506.6,837.3 514.0,789.5 500.6,785.1 487.3,780.5 480.0,828.7" fill="#7e02ff"/>
<polygon points="334.6,461.0 348.1,474.5 361.6,487.3 369.7,482.2 378.0,482.0 364.5,469.1 351.1,455.4 342.8,455.7" fill="#bbee90"/>
<polygon points="538.1,578.6 551.4,582.4 564.8,584.7 572.7,586.8 580.6,590.7 567.3,588.4 554.0,584.5 546.0,580.7" fill="#59f8c8"/>
<polygon points="415.2,530.4 428.6,538.1 442.0,546.0 450.0,541.4 458.1,541.5 444.8,533.4 431.4,525.2 423.3,525.4" fill="#84ffb2"/>
<polygon points="381.5,752.8 394.6,757.1 407.8,760.4 414.7,708.4 421.8,660.6 408.5,654.9 395.2,649.3 388.2,698.8" fill="#0fa3f0"/>
<polygon points="442.0,546.0 455.3,554.7 468.7,562.8 476.7,557.7 484.8,557.4 471.4,549.7 458.1,541.5 450.0,541.4" fill="#77ffb9"/>
<polygon points="307.5,430.6 321.1,446.8 334.6,461.0 342.8,455.7 351.1,455.4 337.6,440.9 324.0,424.7 315.7,425.0" fill="#d5dc7f"/>
<polygon points="841.5,626.6 855.3,617.2 869.2,606.8 876.5,611.8 883.7,614.1 869.9,624.0 856.1,633.1 848.8,631.2" fill="#3dead5"/>
<polygon points="634.0,593.5 647.5,592.8 660.9,591.5 668.7,598.5 676.3,612.6 662.9,614.0 649.6,614.8 641.8,600.6" fill="#4df3ce"/>
<polygon points="883.7,614.1 897.7,603.2 911.7,591.4 919.0,592.1 926.3,590.9 912.3,602.2 898.4,612.5 891.0,614.3" fill="#4df3ce"/>
<polygon points="468.7,562.8 482.1,569.3 495.4,574.9 503.4,569.8 511.4,569.5 498.1,563.8 484.8,557.4 476.7,557.7" fill="#6dfdbe"/>
<polygon points="499.3,886.1 512.6,887.6 525.9,890.6 533.2,838.4 540.6,787.4 527.3,788.6 514.0,789.5 506.6,837.3" fill="#7d04ff"/>
<polygon points="407.8,760.4 420.9,760.2 434.2,764.9 441.3,716.0 448.5,671.2 435.1,662.7 421.8,660.6 414.7,708.4" fill="#11a1f0"/>
<polygon points="241.3,298.9 255.3,323.6 269.2,346.5 277.7,349.8 286.4,356.5 272.6,333.9 258.7,309.7 249.9,302.4" fill="#ff6634"/>
<polygon points="564.8,584.7 578.1,586.9 591.5,587.8 599.4,589.7 607.3,593.5 593.9,592.6 580.6,590.7 572.7,586.8" fill="#5af8c8"/>
<polygon points="280.0,392.0 293.8,411.7 307.5,430.6 315.7,425.0 324.0,424.7 310.4,406.4 296.7,387.1 288.3,387.0" fill="#f7bd68"/>
<polygon points="926.3,590.9 940.3,578.6 954.5,565.3 961.7,564.7 968.9,565.1 954.8,577.6 940.7,589.2 933.5,589.5" fill="#65fcc2"/>
<polygon points="495.4,574.9 508.8,579.7 522.1,583.5 530.1,578.7 538.1,578.6 524.7,574.5 511.4,569.5 503.4,569.8" fill="#68fcc1"/>
<polygon points="799.6,613.3 813.4,605.1 827.2,595.8 834.3,617.0 841.5,626.6 827.8,635.1 814.1,642.7 806.8,633.7" fill="#41ecd4"/>
<polygon points="345.3,499.2 358.8,510.5 372.2,521.6 380.4,515.6 388.5,510.1 375.0,498.9 361.6,487.3 353.5,492.9" fill="#a5f89e"/>
<polygon points="372.2,521.6 385.7,532.7 399.1,541.9 407.2,535.9 415.2,530.4 401.9,521.0 388.5,510.1 380.4,515.6" fill="#93fda9"/>
<polygon points="730.3,599.6 743.9,594.4 757.6,588.5 765.0,606.2 772.3,627.0 758.7,632.6 745.2,637.4 737.8,617.0" fill="#49f1d0"/>
<polygon points="318.3,473.6 331.8,486.7 345.3,499.2 353.5,492.9 361.6,487.3 348.1,474.5 334.6,461.0 326.5,466.9" fill="#bbee90"/>
<polygon points="434.2,764.9 447.5,771.4 460.7,775.6 468.0,728.7 475.3,685.9 461.9,679.9 448.5,671.2 441.3,716.0" fill="#1799f2"/>
<polygon points="315.4,609.9 328.8,620.1 342.2,630.7 349.1,582.6 356.3,545.9 342.9,535.1 329.4,524.5 322.2,561.1" fill="#69fcc1"/>
<polygon points="399.1,541.9 412.5,548.8 425.8,556.5 433.9,551.1 442.0,546.0 428.6,538.1 415.2,530.4 407.2,535.9" fill="#85ffb1"/>
<polygon points="288.5,584.1 302.0,597.1 315.4,609.9 322.2,561.1 329.4,524.5 315.9,512.5 302.4,500.2 295.2,535.6" fill="#7dffb6"/>
<polygon points="968.9,565.1 983.1,551.6 997.4,537.0 1004.5,538.5 1011.6,539.0 997.3,552.7 983.2,565.4 976.0,565.7" fill="#7effb5"/>
<polygon points="342.2,630.7 355.6,640.7 368.9,647.8 375.9,601.4 383.2,565.8 369.8,557.1 356.3,545.9 349.1,582.6" fill="#58f7c9"/>
<polygon points="261.6,561.4 275.1,574.4 288.5,584.1 295.2,535.6 302.4,500.2 288.9,487.9 275.2,472.5 268.1,510.0" fill="#93fda9"/>
<polygon points="291.1,444.0 304.8,460.1 318.3,473.6 326.5,466.9 334.6,461.0 321.1,446.8 307.5,430.6 299.3,436.8" fill="#d5dd7f"/>
<polygon points="425.8,556.5 439.3,565.8 452.7,574.5 460.7,568.5 468.7,562.8 455.3,554.7 442.0,546.0 433.9,551.1" fill="#79ffb8"/>
<polygon points="525.9,890.6 539.2,894.8 552.5,898.5 559.9,845.0 567.4,792.6 554.0,788.2 540.6,787.4 533.2,838.4" fill="#7a08ff"/>
<polygon points="252.4,352.2 266.3,372.6 280.0,392.0 288.3,387.0 296.7,387.1 283.0,367.4 269.2,346.5 260.7,346.7" fill="#ff904b"/>
<polygon points="660.9,591.5 674.4,589.3 688.0,586.5 695.6,593.5 703.3,607.7 689.8,610.5 676.3,612.6 668.7,598.5" fill="#57f7c9"/>
<polygon points="591.5,587.8 604.9,587.7 618.4,587.4 626.2,589.5 634.0,593.5 620.6,593.7 607.3,593.5 599.4,589.7" fill="#5ffac5"/>
<polygon points="522.1,583.5 535.5,586.9 548.9,589.5 556.8,584.8 564.8,584.7 551.4,582.4 538.1,578.6 530.1,578.7" fill="#65fcc2"/>
<polygon points="368.9,647.8 382.0,647.8 395.2,649.3 402.4,608.9 409.9,578.9 396.5,571.8 383.2,565.8 375.9,601.4" fill="#50f4cd"/>
<polygon points="460.7,775.6 474.0,780.0 487.3,780.5 494.6,732.9 502.0,689.4 488.6,686.4 475.3,685.9 468.0,728.7" fill="#1a95f3"/>
<polygon points="452.7,574.5 466.1,581.0 479.5,586.3 487.4,580.4 495.4,574.9 482.1,569.3 468.7,562.8 460.7,568.5" fill="#6efebe"/>
<polygon points="234.2,525.2 247.9,543.1 261.6,561.4 268.1,510.0 275.2,472.5 261.4,453.0 247.6,433.4 240.6,471.7" fill="#b2f396"/>
<polygon points="329.4,524.5 342.9,535.1 356.3,545.9 364.2,529.5 372.2,521.6 358.8,510.5 345.3,499.2 337.2,507.4" fill="#9cfba4"/>
<polygon points="212.9,243.5 227.2,272.4 241.3,298.9 249.9,302.4 258.7,309.7 244.7,283.7 230.6,255.5 221.7,247.4" fill="#ff180c"/>
<polygon points="263.5,404.5 277.4,424.5 291.1,444.0 299.3,436.8 307.5,430.6 293.8,411.7 280.0,392.0 271.8,397.8" fill="#f6be68"/>
<polygon points="356.3,545.9 369.8,557.1 383.2,565.8 391.1,549.8 399.1,541.9 385.7,532.7 372.2,521.6 364.2,529.5" fill="#8afeae"/>
<polygon points="302.4,500.2 315.9,512.5 329.4,524.5 337.2,507.4 345.3,499.2 331.8,486.7 318.3,473.6 310.2,482.2" fill="#b1f397"/>
<polygon points="395.2,649.3 408.5,654.9 421.8,660.6 429.2,624.1 436.8,597.9 423.4,588.8 409.9,578.9 402.4,608.9" fill="#49f1d0"/>
<polygon points="552.5,898.5 565.8,901.9 579.2,905.5 586.7,852.4 594.3,800.1 580.9,796.2 567.4,792.6 559.9,845.0" fill="#7b06ff"/>
<polygon points="383.2,565.8 396.5,571.8 409.9,578.9 417.8,563.8 425.8,556.5 412.5,548.8 399.1,541.9 391.1,549.8" fill="#7effb5"/>
<polygon points="275.2,472.5 288.9,487.9 302.4,500.2 310.2,482.2 318.3,473.6 304.8,460.1 291.1,444.0 283.0,453.2" fill="#c9e587"/>
<polygon points="869.2,606.8 883.2,595.4 897.3,582.9 904.5,588.6 911.7,591.4 897.7,603.2 883.7,614.1 876.5,611.8" fill="#5cf9c7"/>
<polygon points="479.5,586.3 492.8,591.0 506.2,594.1 514.2,588.7 522.1,583.5 508.8,579.7 495.4,574.9 487.4,580.4" fill="#69fcc1"/>
<polygon points="207.1,498.0 220.7,511.3 234.2,525.2 240.6,471.7 247.6,433.4 233.9,416.4 220.1,399.2 213.2,440.5" fill="#d3de81"/>
<polygon points="548.9,589.5 562.3,592.2 575.7,593.1 583.6,588.1 591.5,587.8 578.1,586.9 564.8,584.7 556.8,584.8" fill="#66fcc2"/>
<polygon points="224.4,305.1 238.5,329.6 252.4,352.2 260.7,346.7 269.2,346.5 255.3,323.6 241.3,298.9 232.8,299.2" fill="#ff532a"/>
<polygon points="409.9,578.9 423.4,588.8 436.8,597.9 444.7,582.3 452.7,574.5 439.3,565.8 425.8,556.5 417.8,563.8" fill="#71febc"/>
<polygon points="911.7,591.4 925.8,578.6 940.0,564.7 947.2,565.9 954.5,565.3 940.3,578.6 926.3,590.9 919.0,592.1" fill="#6ffebd"/>
<polygon points="487.3,780.5 500.6,785.1 514.0,789.5 521.3,737.3 528.7,689.0 515.4,691.7 502.0,689.4 494.6,732.9" fill="#1897f2"/>
<polygon points="421.8,660.6 435.1,662.7 448.5,671.2 455.9,635.0 463.6,608.8 450.2,604.0 436.8,597.9 429.2,624.1" fill="#41ecd3"/>
<polygon points="618.4,587.4 631.9,586.9 645.4,585.5 653.2,587.5 660.9,591.5 647.5,592.8 634.0,593.5 626.2,589.5" fill="#67fcc1"/>
<polygon points="757.6,588.5 771.3,581.7 785.1,573.8 792.4,591.9 799.6,613.3 785.9,620.7 772.3,627.0 765.0,606.2" fill="#5ef9c6"/>
<polygon points="235.9,366.2 249.7,385.7 263.5,404.5 271.8,397.8 280.0,392.0 266.3,372.6 252.4,352.2 244.1,358.6" fill="#ff914c"/>
<polygon points="436.8,597.9 450.2,604.0 463.6,608.8 471.5,593.8 479.5,586.3 466.1,581.0 452.7,574.5 444.7,582.3" fill="#66fcc2"/>
<polygon points="247.6,433.4 261.4,453.0 275.2,472.5 283.0,453.2 291.1,444.0 277.4,424.5 263.5,404.5 255.4,413.6" fill="#eaca70"/>
<polygon points="688.0,586.5 701.5,582.6 715.2,577.6 722.8,585.0 730.3,599.6 716.8,604.1 703.3,607.7 695.6,593.5" fill="#65fcc2"/>
<polygon points="827.2,595.8 841.1,585.4 855.1,573.9 862.1,596.4 869.2,606.8 855.3,617.2 841.5,626.6 834.3,617.0" fill="#5df9c6"/>
<polygon points="179.6,462.4 193.4,480.6 207.1,498.0 213.2,440.5 220.1,399.2 206.2,379.4 192.2,357.9 185.5,401.3" fill="#f4c06a"/>
<polygon points="579.2,905.5 592.6,907.6 606.0,907.9 613.6,853.2 621.3,799.6 607.8,801.7 594.3,800.1 586.7,852.4" fill="#7a09ff"/>
<polygon points="506.2,594.1 519.6,597.0 533.0,600.2 541.0,594.7 548.9,589.5 535.5,586.9 522.1,583.5 514.2,588.7" fill="#67fcc1"/>
<polygon points="954.5,565.3 968.8,551.0 983.1,535.5 990.3,535.7 997.4,537.0 983.1,551.6 968.9,565.1 961.7,564.7" fill="#8afeae"/>
<polygon points="448.5,671.2 461.9,679.9 475.3,685.9 482.7,645.3 490.3,614.7 477.0,612.7 463.6,608.8 455.9,635.0" fill="#3be8d6"/>
<polygon points="463.6,608.8 477.0,612.7 490.3,614.7 498.2,600.7 506.2,594.1 492.8,591.0 479.5,586.3 471.5,593.8" fill="#62fbc4"/>
<polygon points="575.7,593.1 589.2,592.6 602.6,592.4 610.5,587.5 618.4,587.4 604.9,587.7 591.5,587.8 583.6,588.1" fill="#6bfdbf"/>
<polygon points="220.1,399.2 233.9,416.4 247.6,433.4 255.4,413.6 263.5,404.5 249.7,385.7 235.9,366.2 227.8,376.9" fill="#ffa256"/>
<polygon points="514.0,789.5 527.3,788.6 540.6,787.4 548.0,734.0 555.5,684.7 542.1,685.5 528.7,689.0 521.3,737.3" fill="#12a0f1"/>
<polygon points="207.9,320.3 221.9,344.2 235.9,366.2 244.1,358.6 252.4,352.2 238.5,329.6 224.4,305.1 216.1,312.0" fill="#ff562c"/>
<polygon points="152.5,435.6 166.1,450.5 179.6,462.4 185.5,401.3 192.2,357.9 178.1,335.1 163.9,309.2 157.7,363.0" fill="#ff964f"/>
<polygon points="196.0,249.9 210.3,278.8 224.4,305.1 232.8,299.2 241.3,298.9 227.2,272.4 212.9,243.5 204.3,243.8" fill="#ff0402"/>
<polygon points="533.0,600.2 546.5,603.8 559.9,604.9 567.8,598.8 575.7,593.1 562.3,592.2 548.9,589.5 541.0,594.7" fill="#67fcc1"/>
<polygon points="475.3,685.9 488.6,686.4 502.0,689.4 509.5,650.2 517.2,620.9 503.7,616.6 490.3,614.7 482.7,645.3" fill="#39e7d7"/>
<polygon points="645.4,585.5 658.9,583.4 672.5,580.5 680.2,582.4 688.0,586.5 674.4,589.3 660.9,591.5 653.2,587.5" fill="#71febc"/>
<polygon points="606.0,907.9 619.4,909.5 632.9,914.3 640.6,857.9 648.4,802.6 634.8,798.5 621.3,799.6 613.6,853.2" fill="#7511ff"/>
<polygon points="490.3,614.7 503.7,616.6 517.2,620.9 525.1,606.8 533.0,600.2 519.6,597.0 506.2,594.1 498.2,600.7" fill="#62fbc4"/>
<polygon points="715.2,577.6 728.8,571.9 742.5,565.7 750.1,573.5 757.6,588.5 743.9,594.4 730.3,599.6 722.8,585.0" fill="#78ffb9"/>
<polygon points="192.2,357.9 206.2,379.4 220.1,399.2 227.8,376.9 235.9,366.2 221.9,344.2 207.9,320.3 199.8,332.9" fill="#ff6e38"/>
<polygon points="602.6,592.4 616.1,592.2 629.7,591.0 637.5,585.9 645.4,585.5 631.9,586.9 618.4,587.4 610.5,587.5" fill="#73febb"/>
<polygon points="785.1,573.8 798.9,564.8 812.9,554.7 820.1,573.4 827.2,595.8 813.4,605.1 799.6,613.3 792.4,591.9" fill="#77ffb9"/>
<polygon points="897.3,582.9 911.4,569.2 925.7,554.2 932.8,561.0 940.0,564.7 925.8,578.6 911.7,591.4 904.5,588.6" fill="#80ffb4"/>
<polygon points="502.0,689.4 515.4,691.7 528.7,689.0 536.3,653.4 544.1,627.5 530.6,625.8 517.2,620.9 509.5,650.2" fill="#3ae8d6"/>
<polygon points="540.6,787.4 554.0,788.2 567.4,792.6 574.9,739.3 582.6,690.3 569.0,686.1 555.5,684.7 548.0,734.0" fill="#0ca7ef"/>
<polygon points="559.9,604.9 573.4,604.2 586.8,604.2 594.7,598.2 602.6,592.4 589.2,592.6 575.7,593.1 567.8,598.8" fill="#6cfdbf"/>
<polygon points="632.9,914.3 646.3,919.5 659.8,922.9 667.7,859.7 675.6,797.2 662.0,801.8 648.4,802.6 640.6,857.9" fill="#7215ff"/>
<polygon points="940.0,564.7 954.3,549.7 968.7,533.5 975.9,535.5 983.1,535.5 968.8,551.0 954.5,565.3 947.2,565.9" fill="#96fda7"/>
<polygon points="517.2,620.9 530.6,625.8 544.1,627.5 552.0,612.5 559.9,604.9 546.5,603.8 533.0,600.2 525.1,606.8" fill="#61fac5"/>
<polygon points="855.1,573.9 869.2,560.5 883.4,545.8 890.2,571.4 897.3,582.9 883.2,595.4 869.2,606.8 862.1,596.4" fill="#7effb5"/>
<polygon points="179.3,265.9 193.7,294.6 207.9,320.3 216.1,312.0 224.4,305.1 210.3,278.8 196.0,249.9 187.6,257.0" fill="#ff0804"/>
<polygon points="672.5,580.5 686.1,576.3 699.7,570.7 707.5,573.0 715.2,577.6 701.5,582.6 688.0,586.5 680.2,582.4" fill="#80ffb4"/>
<polygon points="567.4,792.6 580.9,796.2 594.3,800.1 602.0,746.6 609.7,697.5 596.1,693.5 582.6,690.3 574.9,739.3" fill="#0da6ef"/>
<polygon points="163.9,309.2 178.1,335.1 192.2,357.9 199.8,332.9 207.9,320.3 193.7,294.6 179.3,265.9 171.3,280.8" fill="#ff2714"/>
<polygon points="629.7,591.0 643.2,589.0 656.8,586.3 664.6,580.9 672.5,580.5 658.9,583.4 645.4,585.5 637.5,585.9" fill="#7dffb6"/>
<polygon points="528.7,689.0 542.1,685.5 555.5,684.7 563.2,651.1 571.0,627.3 557.5,626.9 544.1,627.5 536.3,653.4" fill="#41ecd3"/>
<polygon points="544.1,627.5 557.5,626.9 571.0,627.3 578.9,612.0 586.8,604.2 573.4,604.2 559.9,604.9 552.0,612.5" fill="#65fcc3"/>
<polygon points="586.8,604.2 600.4,604.6 613.9,603.9 621.8,597.3 629.7,591.0 616.1,592.2 602.6,592.4 594.7,598.2" fill="#73febb"/>
<polygon points="659.8,922.9 673.3,925.7 686.9,928.9 694.9,861.0 703.0,793.8 689.3,794.2 675.6,797.2 667.7,859.7" fill="#6c1eff"/>
<polygon points="742.5,565.7 756.3,558.7 770.2,550.2 777.7,558.4 785.1,573.8 771.3,581.7 757.6,588.5 750.1,573.5" fill="#8dfead"/>
<polygon points="594.3,800.1 607.8,801.7 621.3,799.6 629.0,745.3 636.9,695.9 623.2,698.5 609.7,697.5 602.0,746.6" fill="#0aa9ef"/>
<polygon points="812.9,554.7 826.9,543.2 840.9,530.5 848.1,550.3 855.1,573.9 841.1,585.4 827.2,595.8 820.1,573.4" fill="#95fda8"/>
<polygon points="555.5,684.7 569.0,686.1 582.6,690.3 590.3,654.5 598.1,628.6 584.6,628.7 571.0,627.3 563.2,651.1" fill="#47f0d1"/>
<polygon points="699.7,570.7 713.4,564.6 727.2,558.5 734.9,561.0 742.5,565.7 728.8,571.9 715.2,577.6 707.5,573.0" fill="#93fda9"/>
<polygon points="686.9,928.9 700.4,931.5 714.0,933.8 722.2,863.5 730.5,793.8 716.7,797.5 703.0,793.8 694.9,861.0" fill="#6824fe"/>
<polygon points="571.0,627.3 584.6,628.7 598.1,628.6 606.0,612.4 613.9,603.9 600.4,604.6 586.8,604.2 578.9,612.0" fill="#6bfdbf"/>
<polygon points="925.7,554.2 940.1,538.1 954.5,520.6 961.6,528.7 968.7,533.5 954.3,549.7 940.0,564.7 932.8,561.0" fill="#a8f79c"/>
<polygon points="613.9,603.9 627.5,602.2 641.1,599.9 649.0,592.9 656.8,586.3 643.2,589.0 629.7,591.0 621.8,597.3" fill="#7dffb6"/>
<polygon points="656.8,586.3 670.4,581.9 684.1,575.7 691.9,570.8 699.7,570.7 686.1,576.3 672.5,580.5 664.6,580.9" fill="#8cfead"/>
<polygon points="883.4,545.8 897.6,529.7 912.0,512.0 918.7,541.4 925.7,554.2 911.4,569.2 897.3,582.9 890.2,571.4" fill="#a5f89e"/>
<polygon points="621.3,799.6 634.8,798.5 648.4,802.6 656.3,742.4 664.2,687.5 650.5,690.0 636.9,695.9 629.0,745.3" fill="#00b4ec"/>
<polygon points="582.6,690.3 596.1,693.5 609.7,697.5 617.5,656.6 625.3,625.7 611.7,627.4 598.1,628.6 590.3,654.5" fill="#4af1cf"/>
<polygon points="770.2,550.2 784.1,540.5 798.0,529.6 805.5,538.4 812.9,554.7 798.9,564.8 785.1,573.8 777.7,558.4" fill="#a7f79d"/>
<polygon points="714.0,933.8 727.6,937.7 741.2,942.2 749.6,864.2 758.1,786.5 744.3,788.0 730.5,793.8 722.2,863.5" fill="#622efe"/>
<polygon points="598.1,628.6 611.7,627.4 625.3,625.7 633.2,608.8 641.1,599.9 627.5,602.2 613.9,603.9 606.0,612.4" fill="#73febb"/>
<polygon points="641.1,599.9 654.7,595.5 668.4,588.6 676.3,581.9 684.1,575.7 670.4,581.9 656.8,586.3 649.0,592.9" fill="#8cfead"/>
<polygon points="727.2,558.5 741.0,551.6 754.9,542.9 762.5,545.3 770.2,550.2 756.3,558.7 742.5,565.7 734.9,561.0" fill="#a9f79c"/>
<polygon points="684.1,575.7 697.9,569.3 711.6,563.7 719.4,558.6 727.2,558.5 713.4,564.6 699.7,570.7 691.9,570.8" fill="#a0faa2"/>
<polygon points="648.4,802.6 662.0,801.8 675.6,797.2 683.6,734.6 691.7,677.9 677.9,684.3 664.2,687.5 656.3,742.4" fill="#0cc1e8"/>
<polygon points="609.7,697.5 623.2,698.5 636.9,695.9 644.7,649.6 652.6,613.8 638.9,621.4 625.3,625.7 617.5,656.6" fill="#53f6cb"/>
<polygon points="840.9,530.5 855.2,514.2 869.5,496.5 876.5,519.1 883.4,545.8 869.2,560.5 855.1,573.9 848.1,550.3" fill="#baef91"/>
<polygon points="741.2,942.2 754.9,944.2 768.6,944.6 777.2,864.3 785.9,784.4 772.1,780.3 758.1,786.5 749.6,864.2" fill="#5b39fd"/>
<polygon points="625.3,625.7 638.9,621.4 652.6,613.8 660.5,597.1 668.4,588.6 654.7,595.5 641.1,599.9 633.2,608.8" fill="#82ffb3"/>
<polygon points="798.0,529.6 812.1,517.3 826.3,503.6 833.7,513.3 840.9,530.5 826.9,543.2 812.9,554.7 805.5,538.4" fill="#c7e788"/>
<polygon points="912.0,512.0 926.5,494.5 941.1,475.5 947.6,505.8 954.5,520.6 940.1,538.1 925.7,554.2 918.7,541.4" fill="#d1e082"/>
<polygon points="668.4,588.6 682.1,582.0 695.9,577.1 703.8,570.2 711.6,563.7 697.9,569.3 684.1,575.7 676.3,581.9" fill="#a0faa2"/>
<polygon points="675.6,797.2 689.3,794.2 703.0,793.8 711.1,727.4 719.3,667.6 705.5,672.8 691.7,677.9 683.6,734.6" fill="#1cd0e2"/>
<polygon points="768.6,944.6 782.3,947.0 796.0,951.7 805.1,854.1 814.2,756.3 800.0,772.4 785.9,784.4 777.2,864.3" fill="#4f4bfc"/>
<polygon points="636.9,695.9 650.5,690.0 664.2,687.5 672.1,639.8 680.1,603.3 666.3,607.1 652.6,613.8 644.7,649.6" fill="#64fbc3"/>
<polygon points="711.6,563.7 725.4,557.3 739.3,548.8 747.1,543.3 754.9,542.9 741.0,551.6 727.2,558.5 719.4,558.6" fill="#b5f194"/>
<polygon points="754.9,542.9 768.8,532.8 782.8,521.7 790.5,524.3 798.0,529.6 784.1,540.5 770.2,550.2 762.5,545.3" fill="#c4e98b"/>
<polygon points="652.6,613.8 666.3,607.1 680.1,603.3 688.0,585.9 695.9,577.1 682.1,582.0 668.4,588.6 660.5,597.1" fill="#96fda7"/>
<polygon points="869.5,496.5 883.9,476.7 898.5,455.0 905.4,481.3 912.0,512.0 897.6,529.7 883.4,545.8 876.5,519.1" fill="#e7cd73"/>
<polygon points="703.0,793.8 716.7,797.5 730.5,793.8 738.8,719.5 747.2,652.5 733.2,661.3 719.3,667.6 711.1,727.4" fill="#2adcdd"/>
<polygon points="695.9,577.1 709.7,571.6 723.6,563.4 731.5,555.8 739.3,548.8 725.4,557.3 711.6,563.7 703.8,570.2" fill="#b4f295"/>
<polygon points="664.2,687.5 677.9,684.3 691.7,677.9 699.7,628.6 707.8,591.6 693.9,599.1 680.1,603.3 672.1,639.8" fill="#75feba"/>
<polygon points="739.3,548.8 753.3,538.8 767.3,527.8 775.1,522.1 782.8,521.7 768.8,532.8 754.9,542.9 747.1,543.3" fill="#d0e082"/>
<polygon points="826.3,503.6 840.5,486.4 854.9,467.6 862.3,478.2 869.5,496.5 855.2,514.2 840.9,530.5 833.7,513.3" fill="#efc56d"/>
<polygon points="782.8,521.7 796.9,509.0 811.1,494.7 818.7,497.6 826.3,503.6 812.1,517.3 798.0,529.6 790.5,524.3" fill="#e5cf74"/>
<polygon points="680.1,603.3 693.9,599.1 707.8,591.6 715.7,572.8 723.6,563.4 709.7,571.6 695.9,577.1 688.0,585.9" fill="#a9f79c"/>
<polygon points="730.5,793.8 744.3,788.0 758.1,786.5 766.8,704.2 775.4,630.0 761.3,641.3 747.2,652.5 738.8,719.5" fill="#3febd5"/>
<polygon points="691.7,677.9 705.5,672.8 719.3,667.6 727.5,613.4 735.7,572.4 721.7,582.3 707.8,591.6 699.7,628.6" fill="#8bfeae"/>
<polygon points="723.6,563.4 737.6,553.5 751.6,542.7 759.5,534.8 767.3,527.8 753.3,538.8 739.3,548.8 731.5,555.8" fill="#cfe183"/>
<polygon points="898.5,455.0 913.1,436.8 927.8,416.8 934.6,443.8 941.1,475.5 926.5,494.5 912.0,512.0 905.4,481.3" fill="#ff9850"/>
<polygon points="707.8,591.6 721.7,582.3 735.7,572.4 743.7,552.6 751.6,542.7 737.6,553.5 723.6,563.4 715.7,572.8" fill="#c3e98b"/>
<polygon points="767.3,527.8 781.4,515.0 795.6,500.7 803.4,495.1 811.1,494.7 796.9,509.0 782.8,521.7 775.1,522.1" fill="#f1c36b"/>
<polygon points="758.1,786.5 772.1,780.3 785.9,784.4 794.9,688.4 804.0,601.4 789.6,617.4 775.4,630.0 766.8,704.2" fill="#57f7c9"/>
<polygon points="811.1,494.7 825.4,477.9 839.8,459.7 847.4,461.1 854.9,467.6 840.5,486.4 826.3,503.6 818.7,497.6" fill="#ffa357"/>
<polygon points="854.9,467.6 869.5,446.4 884.1,423.2 891.4,435.3 898.5,455.0 883.9,476.7 869.5,496.5 862.3,478.2" fill="#ff8b49"/>
<polygon points="719.3,667.6 733.2,661.3 747.2,652.5 755.6,592.5 763.9,547.2 749.8,560.6 735.7,572.4 727.5,613.4" fill="#a5f89e"/>
<polygon points="751.6,542.7 765.7,530.0 779.9,515.7 787.8,507.7 795.6,500.7 781.4,515.0 767.3,527.8 759.5,534.8" fill="#f0c46c"/>
<polygon points="735.7,572.4 749.8,560.6 763.9,547.2 772.0,526.1 779.9,515.7 765.7,530.0 751.6,542.7 743.7,552.6" fill="#e3d176"/>
<polygon points="795.6,500.7 809.9,485.8 824.3,469.5 832.1,461.8 839.8,459.7 825.4,477.9 811.1,494.7 803.4,495.1" fill="#ff954e"/>
<polygon points="785.9,784.4 800.0,772.4 814.2,756.3 823.6,659.3 832.8,572.4 818.4,585.6 804.0,601.4 794.9,688.4" fill="#76ffba"/>
<polygon points="747.2,652.5 761.3,641.3 775.4,630.0 784.0,567.5 792.4,521.0 778.1,534.4 763.9,547.2 755.6,592.5" fill="#c5e88a"/>
<polygon points="839.8,459.7 854.4,438.7 869.0,415.4 876.7,415.8 884.1,423.2 869.5,446.4 854.9,467.6 847.4,461.1" fill="#ff5f30"/>
<polygon points="779.9,515.7 794.2,501.2 808.5,485.6 816.4,477.0 824.3,469.5 809.9,485.8 795.6,500.7 787.8,507.7" fill="#ff9950"/>
<polygon points="884.1,423.2 898.8,404.3 913.6,383.8 920.8,395.6 927.8,416.8 913.1,436.8 898.5,455.0 891.4,435.3" fill="#ff4221"/>
<polygon points="763.9,547.2 778.1,534.4 792.4,521.0 800.5,497.5 808.5,485.6 794.2,501.2 779.9,515.7 772.0,526.1" fill="#ffab5b"/>
<polygon points="824.3,469.5 838.8,450.2 853.4,428.1 861.3,418.9 869.0,415.4 854.4,438.7 839.8,459.7 832.1,461.8" fill="#ff532a"/>
<polygon points="775.4,630.0 789.6,617.4 804.0,601.4 812.8,532.7 821.4,481.8 806.8,503.2 792.4,521.0 784.0,567.5" fill="#ebc970"/>
<polygon points="808.5,485.6 823.0,466.2 837.6,443.6 845.5,435.1 853.4,428.1 838.8,450.2 824.3,469.5 816.4,477.0" fill="#ff5a2e"/>
<polygon points="869.0,415.4 883.7,395.7 898.5,374.7 906.1,377.1 913.6,383.8 898.8,404.3 884.1,423.2 876.7,415.8" fill="#ff0f08"/>
<polygon points="792.4,521.0 806.8,503.2 821.4,481.8 829.6,456.4 837.6,443.6 823.0,466.2 808.5,485.6 800.5,497.5" fill="#ff723a"/>
<polygon points="804.0,601.4 818.4,585.6 832.8,572.4 841.9,497.6 850.7,442.3 836.0,461.4 821.4,481.8 812.8,532.7" fill="#ff964f"/>
<polygon points="853.4,428.1 868.1,405.1 883.0,381.4 890.8,375.1 898.5,374.7 883.7,395.7 869.0,415.4 861.3,418.9" fill="#ff0000"/>
<polygon points="837.6,443.6 852.4,420.7 867.2,397.9 875.1,388.7 883.0,381.4 868.1,405.1 853.4,428.1 845.5,435.1" fill="#ff0603"/>
<polygon points="821.4,481.8 836.0,461.4 850.7,442.3 859.1,413.1 867.2,397.9 852.4,420.7 837.6,443.6 829.6,456.4" fill="#ff2412"/>
</g>
<g fill="none" stroke="#000" stroke-width="2.9" stroke-linecap="square">
<polyline points="61.1,826.8 818.0,1001.0"/>
<polyline points="818.0,1001.0 1224.6,708.8"/>
<polyline points="1224.6,708.8 1254.7,182.1"/>
</g>
<g fill="none" stroke="#000" stroke-width="2.67" stroke-linecap="butt">
<line x1="114.4" y1="833.0" x2="100.7" y2="841.3"/>
<line x1="194.1" y1="851.3" x2="180.5" y2="859.7"/>
<line x1="274.6" y1="869.8" x2="261.0" y2="878.3"/>
<line x1="355.8" y1="888.4" x2="342.4" y2="897.1"/>
<line x1="437.9" y1="907.3" x2="424.5" y2="916.0"/>
<line x1="520.8" y1="926.3" x2="507.5" y2="935.2"/>
<line x1="604.5" y1="945.5" x2="591.3" y2="954.5"/>
<line x1="689.1" y1="964.9" x2="676.0" y2="974.1"/>
<line x1="774.6" y1="984.5" x2="761.5" y2="993.8"/>
<line x1="836.6" y1="978.9" x2="857.1" y2="983.6"/>
<line x1="911.4" y1="925.1" x2="932.0" y2="929.7"/>
<line x1="984.2" y1="872.8" x2="1004.9" y2="877.3"/>
<line x1="1055.1" y1="821.9" x2="1075.7" y2="826.4"/>
<line x1="1124.1" y1="772.4" x2="1144.7" y2="776.7"/>
<line x1="1191.2" y1="724.1" x2="1211.9" y2="728.4"/>
<line x1="1218.3" y1="691.4" x2="1238.7" y2="695.6"/>
<line x1="1224.3" y1="586.4" x2="1244.7" y2="590.5"/>
<line x1="1230.5" y1="479.2" x2="1250.9" y2="483.2"/>
<line x1="1236.7" y1="369.7" x2="1257.2" y2="373.5"/>
<line x1="1243.1" y1="257.8" x2="1263.6" y2="261.5"/>
</g>
<g font-family="'DejaVu Sans', 'Liberation Sans', sans-serif" fill="#000" text-anchor="middle" style="font-variant-ligatures:none;font-feature-settings:'liga' 0,'clig' 0;font-kerning:none">
<text x="82.7" y="907.3" font-size="33.33">−10.0</text>
<text x="163.0" y="926.9" font-size="33.33">−7.5</text>
<text x="243.3" y="945.3" font-size="33.33">−5.0</text>
<text x="324.7" y="964.1" font-size="33.33">−2.5</text>
<text x="405.8" y="983.5" font-size="33.33">0.0</text>
<text x="488.2" y="1003.4" font-size="33.33">2.5</text>
<text x="571.6" y="1022.4" font-size="33.33">5.0</text>
<text x="656.9" y="1042.2" font-size="33.33">7.5</text>
<text x="743.5" y="1062.4" font-size="33.33">10.0</text>
<text x="889.5" y="1046.3" font-size="33.33">0</text>
<text x="964.3" y="991.6" font-size="33.33">1</text>
<text x="1035.8" y="939.5" font-size="33.33">2</text>
<text x="1106.6" y="887.3" font-size="33.33">3</text>
<text x="1173.7" y="837.2" font-size="33.33">4</text>
<text x="1241.1" y="789.3" font-size="33.33">5</text>
<text x="1315.8" y="279.3" font-size="33.33">2.0</text>
<text x="1308.2" y="391.9" font-size="33.33">1.5</text>
<text x="1302.7" y="501.5" font-size="33.33">1.0</text>
<text x="1295.3" y="609.2" font-size="33.33">0.5</text>
<text x="1288.2" y="713.9" font-size="33.33">0.0</text>
<text x="632.2" y="44.0" font-size="40.00" letter-spacing="0.27">Drag Coefficient of Interceptor</text>
<text x="377.1" y="1018.9" font-size="33.33" transform="rotate(12.95 377.1 1006.8)" letter-spacing="0.25">Attack Angle</text>
<text x="1119.2" y="942.6" font-size="33.33" transform="rotate(-35.60 1119.2 930.5)" letter-spacing="0.25">Mach Number</text>
<text x="1375.8" y="451.1" font-size="33.33" transform="rotate(-86.80 1375.8 439.0)" letter-spacing="0.3">Drag Coefficient</text>
</g>
</svg>
</body></html>
